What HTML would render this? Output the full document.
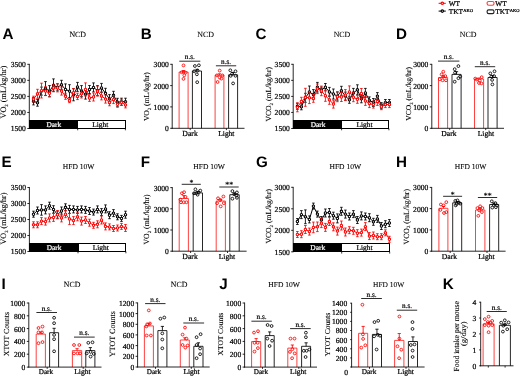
<!DOCTYPE html>
<html><head><meta charset="utf-8"><style>
html,body{margin:0;padding:0;background:#fff;overflow:hidden;}
svg{display:block;will-change:transform;font-family:"Liberation Serif",serif;text-rendering:geometricPrecision;}
</style></head><body>
<svg width="520" height="377" viewBox="0 0 520 377">
<rect width="520" height="377" fill="#fff"/>
<line x1="438.6" y1="3.3" x2="445.8" y2="3.3" stroke="#ff0000" stroke-width="1"/>
<circle cx="442.3" cy="3.3" r="1.2" fill="#fff" stroke="#ff0000" stroke-width="1.2"/>
<line x1="438.6" y1="11.1" x2="445.8" y2="11.1" stroke="#000" stroke-width="1"/>
<circle cx="442.3" cy="11.1" r="1.2" fill="#fff" stroke="#000" stroke-width="1.2"/>
<text x="448.7" y="5.8" font-size="7.1" stroke="#000" stroke-width="0.22" textLength="11.3" lengthAdjust="spacingAndGlyphs">WT</text>
<text x="448.7" y="14.2" font-size="7.1" stroke="#000" stroke-width="0.22" textLength="14.3" lengthAdjust="spacingAndGlyphs">TKT</text>
<text x="463.2" y="12" font-size="4.5" stroke="#000" stroke-width="0.22" textLength="9.8" lengthAdjust="spacingAndGlyphs">AKO</text>
<rect x="487.1" y="1.5" width="6.9" height="3.7" fill="#fff" stroke="#ff4040" stroke-width="1.15" rx="1.6"/>
<rect x="487.1" y="9.85" width="6.9" height="3.7" fill="#fff" stroke="#222" stroke-width="1.15" rx="1.6"/>
<text x="495.3" y="5.8" font-size="7.1" stroke="#000" stroke-width="0.22" textLength="11.3" lengthAdjust="spacingAndGlyphs">WT</text>
<text x="495.3" y="14.2" font-size="7.1" stroke="#000" stroke-width="0.22" textLength="14.3" lengthAdjust="spacingAndGlyphs">TKT</text>
<text x="509.7" y="12" font-size="4.5" stroke="#000" stroke-width="0.22" textLength="9.8" lengthAdjust="spacingAndGlyphs">AKO</text>
<text x="2.52" y="39.4" font-size="15.2" font-family='"Liberation Sans", sans-serif' font-weight="bold">A</text>
<text x="77.75" y="36.7" font-size="7.86" text-anchor="middle" stroke="#000" stroke-width="0.08" textLength="16.6" lengthAdjust="spacingAndGlyphs">NCD</text>
<line x1="29.3" y1="63.88" x2="29.3" y2="128.93" stroke="#000" stroke-width="0.85"/>
<line x1="27.3" y1="64.3" x2="29.3" y2="64.3" stroke="#000" stroke-width="0.85"/>
<text x="25.9" y="67.25" font-size="7.6" text-anchor="end" stroke="#000" stroke-width="0.22">3500</text>
<line x1="27.3" y1="80.35" x2="29.3" y2="80.35" stroke="#000" stroke-width="0.85"/>
<text x="25.9" y="83.3" font-size="7.6" text-anchor="end" stroke="#000" stroke-width="0.22">3000</text>
<line x1="27.3" y1="96.4" x2="29.3" y2="96.4" stroke="#000" stroke-width="0.85"/>
<text x="25.9" y="99.35" font-size="7.6" text-anchor="end" stroke="#000" stroke-width="0.22">2500</text>
<line x1="27.3" y1="112.45" x2="29.3" y2="112.45" stroke="#000" stroke-width="0.85"/>
<text x="25.9" y="115.4" font-size="7.6" text-anchor="end" stroke="#000" stroke-width="0.22">2000</text>
<line x1="27.3" y1="128.5" x2="29.3" y2="128.5" stroke="#000" stroke-width="0.85"/>
<text x="25.9" y="131.45" font-size="7.6" text-anchor="end" stroke="#000" stroke-width="0.22">1500</text>
<rect x="29" y="120" width="48" height="9" fill="#000" stroke="none" stroke-width="1"/>
<rect x="77.5" y="120.5" width="48" height="8" fill="#fff" stroke="#000" stroke-width="1"/>
<text x="53.9" y="126.6" font-size="7.3" text-anchor="middle" fill="#fff" stroke="#fff" stroke-width="0.22" textLength="14.7" lengthAdjust="spacingAndGlyphs">Dark</text>
<text x="100.25" y="126.6" font-size="7.3" text-anchor="middle" stroke="#000" stroke-width="0.22" textLength="16" lengthAdjust="spacingAndGlyphs">Light</text>
<line x1="77.7" y1="128.5" x2="77.7" y2="130.3" stroke="#000" stroke-width="0.8"/>
<line x1="125.4" y1="128.5" x2="125.4" y2="130.3" stroke="#000" stroke-width="0.8"/>
<path d="M33.5,101.2L37.5,102.8L41.5,91.1L45.5,88.5L49.5,91.1L53.5,85.3L57.5,87.3L61.5,84.8L65.5,89.5L69.5,91.1L73.5,94.8L77.5,86.9L81.5,91.1L85.5,94.3L89.5,89.5L93.5,87.4L97.5,90.6L101.5,87.9L105.5,93.3L109.5,99.1L113.5,95.3L117.5,102.3L121.5,101.7L125.5,101.7" fill="none" stroke="#000" stroke-width="1.0"/>
<path d="M33.5,97.5V104.9M32.2,97.5h2.6M32.2,104.9h2.6M37.5,99.4V106.2M36.2,99.4h2.6M36.2,106.2h2.6M41.5,87.1V95.1M40.2,87.1h2.6M40.2,95.1h2.6M45.5,81.6V95.4M44.2,81.6h2.6M44.2,95.4h2.6M49.5,85.6V96.6M48.2,85.6h2.6M48.2,96.6h2.6M53.5,78.9V91.7M52.2,78.9h2.6M52.2,91.7h2.6M57.5,83.8V90.8M56.2,83.8h2.6M56.2,90.8h2.6M61.5,80.3V89.3M60.2,80.3h2.6M60.2,89.3h2.6M65.5,83.9V95.1M64.2,83.9h2.6M64.2,95.1h2.6M69.5,84.7V97.5M68.2,84.7h2.6M68.2,97.5h2.6M73.5,88.8V100.8M72.2,88.8h2.6M72.2,100.8h2.6M77.5,82.4V91.4M76.2,82.4h2.6M76.2,91.4h2.6M81.5,85.6V96.6M80.2,85.6h2.6M80.2,96.6h2.6M85.5,89.5V99.1M84.2,89.5h2.6M84.2,99.1h2.6M89.5,85.5V93.5M88.2,85.5h2.6M88.2,93.5h2.6M93.5,82.9V91.9M92.2,82.9h2.6M92.2,91.9h2.6M97.5,85.6V95.6M96.2,85.6h2.6M96.2,95.6h2.6M101.5,83.4V92.4M100.2,83.4h2.6M100.2,92.4h2.6M105.5,88.3V98.3M104.2,88.3h2.6M104.2,98.3h2.6M109.5,94.6V103.6M108.2,94.6h2.6M108.2,103.6h2.6M113.5,91.3V99.3M112.2,91.3h2.6M112.2,99.3h2.6M117.5,98.3V106.3M116.2,98.3h2.6M116.2,106.3h2.6M121.5,98.2V105.2M120.2,98.2h2.6M120.2,105.2h2.6M125.5,98.2V105.2M124.2,98.2h2.6M124.2,105.2h2.6" fill="none" stroke="#000" stroke-width="0.85"/>
<circle cx="33.5" cy="101.2" r="1.2" fill="#fff" stroke="#000" stroke-width="1.05"/>
<circle cx="37.5" cy="102.8" r="1.2" fill="#fff" stroke="#000" stroke-width="1.05"/>
<circle cx="41.5" cy="91.1" r="1.2" fill="#fff" stroke="#000" stroke-width="1.05"/>
<circle cx="45.5" cy="88.5" r="1.2" fill="#fff" stroke="#000" stroke-width="1.05"/>
<circle cx="49.5" cy="91.1" r="1.2" fill="#fff" stroke="#000" stroke-width="1.05"/>
<circle cx="53.5" cy="85.3" r="1.2" fill="#fff" stroke="#000" stroke-width="1.05"/>
<circle cx="57.5" cy="87.3" r="1.2" fill="#fff" stroke="#000" stroke-width="1.05"/>
<circle cx="61.5" cy="84.8" r="1.2" fill="#fff" stroke="#000" stroke-width="1.05"/>
<circle cx="65.5" cy="89.5" r="1.2" fill="#fff" stroke="#000" stroke-width="1.05"/>
<circle cx="69.5" cy="91.1" r="1.2" fill="#fff" stroke="#000" stroke-width="1.05"/>
<circle cx="73.5" cy="94.8" r="1.2" fill="#fff" stroke="#000" stroke-width="1.05"/>
<circle cx="77.5" cy="86.9" r="1.2" fill="#fff" stroke="#000" stroke-width="1.05"/>
<circle cx="81.5" cy="91.1" r="1.2" fill="#fff" stroke="#000" stroke-width="1.05"/>
<circle cx="85.5" cy="94.3" r="1.2" fill="#fff" stroke="#000" stroke-width="1.05"/>
<circle cx="89.5" cy="89.5" r="1.2" fill="#fff" stroke="#000" stroke-width="1.05"/>
<circle cx="93.5" cy="87.4" r="1.2" fill="#fff" stroke="#000" stroke-width="1.05"/>
<circle cx="97.5" cy="90.6" r="1.2" fill="#fff" stroke="#000" stroke-width="1.05"/>
<circle cx="101.5" cy="87.9" r="1.2" fill="#fff" stroke="#000" stroke-width="1.05"/>
<circle cx="105.5" cy="93.3" r="1.2" fill="#fff" stroke="#000" stroke-width="1.05"/>
<circle cx="109.5" cy="99.1" r="1.2" fill="#fff" stroke="#000" stroke-width="1.05"/>
<circle cx="113.5" cy="95.3" r="1.2" fill="#fff" stroke="#000" stroke-width="1.05"/>
<circle cx="117.5" cy="102.3" r="1.2" fill="#fff" stroke="#000" stroke-width="1.05"/>
<circle cx="121.5" cy="101.7" r="1.2" fill="#fff" stroke="#000" stroke-width="1.05"/>
<circle cx="125.5" cy="101.7" r="1.2" fill="#fff" stroke="#000" stroke-width="1.05"/>
<path d="M33.5,99.1L37.5,93.8L41.5,90.6L45.5,91.1L49.5,93.3L53.5,87.9L57.5,87.9L61.5,91.1L65.5,96.3L69.5,100.7L73.5,92.7L77.5,96.4L81.5,93.8L85.5,89.5L89.5,98L93.5,97L97.5,91.1L101.5,95.9L105.5,99.1L109.5,102.3L113.5,99.6L117.5,104.3L121.5,102.3L125.5,104.9" fill="none" stroke="#ff0000" stroke-width="1.0"/>
<path d="M33.5,96.2V102M32.2,96.2h2.6M32.2,102h2.6M37.5,89.3V98.3M36.2,89.3h2.6M36.2,98.3h2.6M41.5,83.2V98M40.2,83.2h2.6M40.2,98h2.6M45.5,86.6V95.6M44.2,86.6h2.6M44.2,95.6h2.6M49.5,89.6V97M48.2,89.6h2.6M48.2,97h2.6M53.5,84.7V91.1M52.2,84.7h2.6M52.2,91.1h2.6M57.5,83.9V91.9M56.2,83.9h2.6M56.2,91.9h2.6M61.5,87.1V95.1M60.2,87.1h2.6M60.2,95.1h2.6M65.5,93.3V99.3M64.2,93.3h2.6M64.2,99.3h2.6M69.5,98.7V102.7M68.2,98.7h2.6M68.2,102.7h2.6M73.5,88.5V96.9M72.2,88.5h2.6M72.2,96.9h2.6M77.5,93.2V99.6M76.2,93.2h2.6M76.2,99.6h2.6M81.5,89.6V98M80.2,89.6h2.6M80.2,98h2.6M85.5,82.9V96.1M84.2,82.9h2.6M84.2,96.1h2.6M89.5,94.6V101.4M88.2,94.6h2.6M88.2,101.4h2.6M93.5,93V101M92.2,93h2.6M92.2,101h2.6M97.5,86.1V96.1M96.2,86.1h2.6M96.2,96.1h2.6M101.5,91.9V99.9M100.2,91.9h2.6M100.2,99.9h2.6M105.5,95.1V103.1M104.2,95.1h2.6M104.2,103.1h2.6M109.5,98.8V105.8M108.2,98.8h2.6M108.2,105.8h2.6M113.5,95.6V103.6M112.2,95.6h2.6M112.2,103.6h2.6M117.5,101.3V107.3M116.2,101.3h2.6M116.2,107.3h2.6M121.5,99.3V105.3M120.2,99.3h2.6M120.2,105.3h2.6M125.5,101.9V107.9M124.2,101.9h2.6M124.2,107.9h2.6" fill="none" stroke="#ff0000" stroke-width="0.85"/>
<circle cx="33.5" cy="99.1" r="1.2" fill="#fff" stroke="#ff0000" stroke-width="1.05"/>
<circle cx="37.5" cy="93.8" r="1.2" fill="#fff" stroke="#ff0000" stroke-width="1.05"/>
<circle cx="41.5" cy="90.6" r="1.2" fill="#fff" stroke="#ff0000" stroke-width="1.05"/>
<circle cx="45.5" cy="91.1" r="1.2" fill="#fff" stroke="#ff0000" stroke-width="1.05"/>
<circle cx="49.5" cy="93.3" r="1.2" fill="#fff" stroke="#ff0000" stroke-width="1.05"/>
<circle cx="53.5" cy="87.9" r="1.2" fill="#fff" stroke="#ff0000" stroke-width="1.05"/>
<circle cx="57.5" cy="87.9" r="1.2" fill="#fff" stroke="#ff0000" stroke-width="1.05"/>
<circle cx="61.5" cy="91.1" r="1.2" fill="#fff" stroke="#ff0000" stroke-width="1.05"/>
<circle cx="65.5" cy="96.3" r="1.2" fill="#fff" stroke="#ff0000" stroke-width="1.05"/>
<circle cx="69.5" cy="100.7" r="1.2" fill="#fff" stroke="#ff0000" stroke-width="1.05"/>
<circle cx="73.5" cy="92.7" r="1.2" fill="#fff" stroke="#ff0000" stroke-width="1.05"/>
<circle cx="77.5" cy="96.4" r="1.2" fill="#fff" stroke="#ff0000" stroke-width="1.05"/>
<circle cx="81.5" cy="93.8" r="1.2" fill="#fff" stroke="#ff0000" stroke-width="1.05"/>
<circle cx="85.5" cy="89.5" r="1.2" fill="#fff" stroke="#ff0000" stroke-width="1.05"/>
<circle cx="89.5" cy="98" r="1.2" fill="#fff" stroke="#ff0000" stroke-width="1.05"/>
<circle cx="93.5" cy="97" r="1.2" fill="#fff" stroke="#ff0000" stroke-width="1.05"/>
<circle cx="97.5" cy="91.1" r="1.2" fill="#fff" stroke="#ff0000" stroke-width="1.05"/>
<circle cx="101.5" cy="95.9" r="1.2" fill="#fff" stroke="#ff0000" stroke-width="1.05"/>
<circle cx="105.5" cy="99.1" r="1.2" fill="#fff" stroke="#ff0000" stroke-width="1.05"/>
<circle cx="109.5" cy="102.3" r="1.2" fill="#fff" stroke="#ff0000" stroke-width="1.05"/>
<circle cx="113.5" cy="99.6" r="1.2" fill="#fff" stroke="#ff0000" stroke-width="1.05"/>
<circle cx="117.5" cy="104.3" r="1.2" fill="#fff" stroke="#ff0000" stroke-width="1.05"/>
<circle cx="121.5" cy="102.3" r="1.2" fill="#fff" stroke="#ff0000" stroke-width="1.05"/>
<circle cx="125.5" cy="104.9" r="1.2" fill="#fff" stroke="#ff0000" stroke-width="1.05"/>
<text x="6.5" y="92.1" font-size="8.23" text-anchor="middle" stroke="#000" stroke-width="0.1" transform="rotate(-90 6.5 92.1)" textLength="52.8" lengthAdjust="spacingAndGlyphs">VO<tspan font-size="4.8" dy="1.6">2</tspan><tspan dy="-1.6"> (mL/kg/hr)</tspan></text>
<text x="140.78" y="39.4" font-size="15.2" font-family='"Liberation Sans", sans-serif' font-weight="bold">B</text>
<text x="205.6" y="36.7" font-size="7.91" text-anchor="middle" stroke="#000" stroke-width="0.08" textLength="16.7" lengthAdjust="spacingAndGlyphs">NCD</text>
<line x1="172.2" y1="63.88" x2="172.2" y2="128.73" stroke="#000" stroke-width="0.85"/>
<line x1="170.2" y1="64.3" x2="172.2" y2="64.3" stroke="#000" stroke-width="0.85"/>
<text x="168.8" y="67.25" font-size="7.6" text-anchor="end" stroke="#000" stroke-width="0.22">3000</text>
<line x1="170.2" y1="85.6" x2="172.2" y2="85.6" stroke="#000" stroke-width="0.85"/>
<text x="168.8" y="88.55" font-size="7.6" text-anchor="end" stroke="#000" stroke-width="0.22">2000</text>
<line x1="170.2" y1="106.9" x2="172.2" y2="106.9" stroke="#000" stroke-width="0.85"/>
<text x="168.8" y="109.85" font-size="7.6" text-anchor="end" stroke="#000" stroke-width="0.22">1000</text>
<line x1="170.2" y1="128.3" x2="172.2" y2="128.3" stroke="#000" stroke-width="0.85"/>
<text x="168.8" y="131.25" font-size="7.6" text-anchor="end" stroke="#000" stroke-width="0.22">0</text>
<path d="M179.1,128.3V72H188.1V128.3" fill="#fff" stroke="#ff2020" stroke-width="0.85"/>
<line x1="183.6" y1="72" x2="183.6" y2="70.6" stroke="#ff0000" stroke-width="0.85"/>
<line x1="182" y1="70.6" x2="185.2" y2="70.6" stroke="#ff0000" stroke-width="0.85"/>
<circle cx="183.5" cy="65.4" r="1.4" fill="none" stroke="#ff0000" stroke-width="0.85"/>
<circle cx="181.6" cy="72.3" r="1.4" fill="none" stroke="#ff0000" stroke-width="0.85"/>
<circle cx="183.6" cy="71.9" r="1.4" fill="none" stroke="#ff0000" stroke-width="0.85"/>
<circle cx="185.6" cy="72.6" r="1.4" fill="none" stroke="#ff0000" stroke-width="0.85"/>
<circle cx="184.3" cy="75.3" r="1.4" fill="none" stroke="#ff0000" stroke-width="0.85"/>
<circle cx="183.5" cy="78.9" r="1.4" fill="none" stroke="#ff0000" stroke-width="0.85"/>
<path d="M192.4,128.3V71H201.5V128.3" fill="#fff" stroke="#000" stroke-width="0.85"/>
<line x1="196.95" y1="71" x2="196.95" y2="69.3" stroke="#000" stroke-width="0.85"/>
<line x1="195.35" y1="69.3" x2="198.55" y2="69.3" stroke="#000" stroke-width="0.85"/>
<circle cx="194.9" cy="66" r="1.4" fill="none" stroke="#000" stroke-width="0.85"/>
<circle cx="198.9" cy="65.3" r="1.4" fill="none" stroke="#000" stroke-width="0.85"/>
<circle cx="194.2" cy="71.3" r="1.4" fill="none" stroke="#000" stroke-width="0.85"/>
<circle cx="197.6" cy="70.6" r="1.4" fill="none" stroke="#000" stroke-width="0.85"/>
<circle cx="196.9" cy="74.3" r="1.4" fill="none" stroke="#000" stroke-width="0.85"/>
<circle cx="197.2" cy="82.2" r="1.4" fill="none" stroke="#000" stroke-width="0.85"/>
<path d="M215.1,128.3V75.2H223.9V128.3" fill="#fff" stroke="#ff2020" stroke-width="0.85"/>
<line x1="219.5" y1="75.2" x2="219.5" y2="73.8" stroke="#ff0000" stroke-width="0.85"/>
<line x1="217.9" y1="73.8" x2="221.1" y2="73.8" stroke="#ff0000" stroke-width="0.85"/>
<circle cx="219.7" cy="70.6" r="1.4" fill="none" stroke="#ff0000" stroke-width="0.85"/>
<circle cx="216.9" cy="75.4" r="1.4" fill="none" stroke="#ff0000" stroke-width="0.85"/>
<circle cx="222.4" cy="75.4" r="1.4" fill="none" stroke="#ff0000" stroke-width="0.85"/>
<circle cx="219.7" cy="77.5" r="1.4" fill="none" stroke="#ff0000" stroke-width="0.85"/>
<circle cx="221.4" cy="78.6" r="1.4" fill="none" stroke="#ff0000" stroke-width="0.85"/>
<circle cx="217.6" cy="82" r="1.4" fill="none" stroke="#ff0000" stroke-width="0.85"/>
<path d="M228.6,128.3V74.8H237.6V128.3" fill="#fff" stroke="#000" stroke-width="0.85"/>
<line x1="233.1" y1="74.8" x2="233.1" y2="72.5" stroke="#000" stroke-width="0.85"/>
<line x1="231.5" y1="72.5" x2="234.7" y2="72.5" stroke="#000" stroke-width="0.85"/>
<circle cx="230.3" cy="70.3" r="1.4" fill="none" stroke="#000" stroke-width="0.85"/>
<circle cx="235.5" cy="71.3" r="1.4" fill="none" stroke="#000" stroke-width="0.85"/>
<circle cx="232.1" cy="73.7" r="1.4" fill="none" stroke="#000" stroke-width="0.85"/>
<circle cx="230.7" cy="75.8" r="1.4" fill="none" stroke="#000" stroke-width="0.85"/>
<circle cx="235.5" cy="75.8" r="1.4" fill="none" stroke="#000" stroke-width="0.85"/>
<circle cx="233.1" cy="83.4" r="1.4" fill="none" stroke="#000" stroke-width="0.85"/>
<line x1="171.77" y1="128.3" x2="244.5" y2="128.3" stroke="#000" stroke-width="0.85"/>
<line x1="190.2" y1="128.3" x2="190.2" y2="130.1" stroke="#000" stroke-width="0.8"/>
<line x1="226.4" y1="128.3" x2="226.4" y2="130.1" stroke="#000" stroke-width="0.8"/>
<line x1="179.3" y1="61.2" x2="200.3" y2="61.2" stroke="#222" stroke-width="0.95"/>
<text x="189.8" y="59.4" font-size="7.2" text-anchor="middle" stroke="#000" stroke-width="0.22">n.s.</text>
<line x1="215.9" y1="65.8" x2="236.2" y2="65.8" stroke="#222" stroke-width="0.95"/>
<text x="226.05" y="64" font-size="7.2" text-anchor="middle" stroke="#000" stroke-width="0.22">n.s.</text>
<text x="190.05" y="135.9" font-size="7.7" text-anchor="middle" stroke="#000" stroke-width="0.22" textLength="15.4" lengthAdjust="spacingAndGlyphs">Dark</text>
<text x="226.35" y="135.9" font-size="7.48" text-anchor="middle" stroke="#000" stroke-width="0.22" textLength="16.2" lengthAdjust="spacingAndGlyphs">Light</text>
<text x="149.4" y="96.65" font-size="7.62" text-anchor="middle" stroke="#000" stroke-width="0.1" transform="rotate(-90 149.4 96.65)" textLength="48.9" lengthAdjust="spacingAndGlyphs">VO<tspan font-size="4.8" dy="1.6">2</tspan><tspan dy="-1.6"> (mL/kg/hr)</tspan></text>
<text x="255.58" y="39.4" font-size="15.2" font-family='"Liberation Sans", sans-serif' font-weight="bold">C</text>
<text x="342" y="36.7" font-size="7.91" text-anchor="middle" stroke="#000" stroke-width="0.08" textLength="16.7" lengthAdjust="spacingAndGlyphs">NCD</text>
<line x1="293.2" y1="63.88" x2="293.2" y2="128.93" stroke="#000" stroke-width="0.85"/>
<line x1="291.2" y1="64.3" x2="293.2" y2="64.3" stroke="#000" stroke-width="0.85"/>
<text x="289.8" y="67.25" font-size="7.6" text-anchor="end" stroke="#000" stroke-width="0.22">3500</text>
<line x1="291.2" y1="80.35" x2="293.2" y2="80.35" stroke="#000" stroke-width="0.85"/>
<text x="289.8" y="83.3" font-size="7.6" text-anchor="end" stroke="#000" stroke-width="0.22">3000</text>
<line x1="291.2" y1="96.4" x2="293.2" y2="96.4" stroke="#000" stroke-width="0.85"/>
<text x="289.8" y="99.35" font-size="7.6" text-anchor="end" stroke="#000" stroke-width="0.22">2500</text>
<line x1="291.2" y1="112.45" x2="293.2" y2="112.45" stroke="#000" stroke-width="0.85"/>
<text x="289.8" y="115.4" font-size="7.6" text-anchor="end" stroke="#000" stroke-width="0.22">2000</text>
<line x1="291.2" y1="128.5" x2="293.2" y2="128.5" stroke="#000" stroke-width="0.85"/>
<text x="289.8" y="131.45" font-size="7.6" text-anchor="end" stroke="#000" stroke-width="0.22">1500</text>
<rect x="293" y="120" width="48" height="9" fill="#000" stroke="none" stroke-width="1"/>
<rect x="341.5" y="120.5" width="47" height="8" fill="#fff" stroke="#000" stroke-width="1"/>
<text x="318.1" y="126.6" font-size="7.3" text-anchor="middle" fill="#fff" stroke="#fff" stroke-width="0.22" textLength="14.7" lengthAdjust="spacingAndGlyphs">Dark</text>
<text x="364.55" y="126.6" font-size="7.3" text-anchor="middle" stroke="#000" stroke-width="0.22" textLength="16" lengthAdjust="spacingAndGlyphs">Light</text>
<line x1="341.6" y1="128.5" x2="341.6" y2="130.3" stroke="#000" stroke-width="0.8"/>
<line x1="388.9" y1="128.5" x2="388.9" y2="130.3" stroke="#000" stroke-width="0.8"/>
<path d="M297.4,106.3L301.4,106.8L305.4,97.8L309.4,92L313.4,94.6L317.4,87.2L321.4,89.8L325.4,87.2L329.4,91.9L333.4,94L337.4,96.1L341.4,90.8L345.4,96.1L349.4,99.8L353.4,92.9L357.4,89.8L361.4,98.8L365.4,92.9L369.4,100.4L373.4,102.5L377.4,96.1L381.4,105.7L385.4,102.5L389.4,102.5" fill="none" stroke="#000" stroke-width="1.0"/>
<path d="M297.4,103.3V109.3M296.1,103.3h2.6M296.1,109.3h2.6M301.4,103.8V109.8M300.1,103.8h2.6M300.1,109.8h2.6M305.4,93.3V102.3M304.1,93.3h2.6M304.1,102.3h2.6M309.4,86V98M308.1,86h2.6M308.1,98h2.6M313.4,89.6V99.6M312.1,89.6h2.6M312.1,99.6h2.6M317.4,82.4V92M316.1,82.4h2.6M316.1,92h2.6M321.4,87.1V92.5M320.1,87.1h2.6M320.1,92.5h2.6M325.4,83.5V90.9M324.1,83.5h2.6M324.1,90.9h2.6M329.4,87.4V96.4M328.1,87.4h2.6M328.1,96.4h2.6M333.4,89V99M332.1,89h2.6M332.1,99h2.6M337.4,92.1V100.1M336.1,92.1h2.6M336.1,100.1h2.6M341.4,86.3V95.3M340.1,86.3h2.6M340.1,95.3h2.6M345.4,92.1V100.1M344.1,92.1h2.6M344.1,100.1h2.6M349.4,96.3V103.3M348.1,96.3h2.6M348.1,103.3h2.6M353.4,88.4V97.4M352.1,88.4h2.6M352.1,97.4h2.6M357.4,84.8V94.8M356.1,84.8h2.6M356.1,94.8h2.6M361.4,94.8V102.8M360.1,94.8h2.6M360.1,102.8h2.6M365.4,88.4V97.4M364.1,88.4h2.6M364.1,97.4h2.6M369.4,96.9V103.9M368.1,96.9h2.6M368.1,103.9h2.6M373.4,98.5V106.5M372.1,98.5h2.6M372.1,106.5h2.6M377.4,92.6V99.6M376.1,92.6h2.6M376.1,99.6h2.6M381.4,102.7V108.7M380.1,102.7h2.6M380.1,108.7h2.6M385.4,99.5V105.5M384.1,99.5h2.6M384.1,105.5h2.6M389.4,99.5V105.5M388.1,99.5h2.6M388.1,105.5h2.6" fill="none" stroke="#000" stroke-width="0.85"/>
<circle cx="297.4" cy="106.3" r="1.2" fill="#fff" stroke="#000" stroke-width="1.05"/>
<circle cx="301.4" cy="106.8" r="1.2" fill="#fff" stroke="#000" stroke-width="1.05"/>
<circle cx="305.4" cy="97.8" r="1.2" fill="#fff" stroke="#000" stroke-width="1.05"/>
<circle cx="309.4" cy="92" r="1.2" fill="#fff" stroke="#000" stroke-width="1.05"/>
<circle cx="313.4" cy="94.6" r="1.2" fill="#fff" stroke="#000" stroke-width="1.05"/>
<circle cx="317.4" cy="87.2" r="1.2" fill="#fff" stroke="#000" stroke-width="1.05"/>
<circle cx="321.4" cy="89.8" r="1.2" fill="#fff" stroke="#000" stroke-width="1.05"/>
<circle cx="325.4" cy="87.2" r="1.2" fill="#fff" stroke="#000" stroke-width="1.05"/>
<circle cx="329.4" cy="91.9" r="1.2" fill="#fff" stroke="#000" stroke-width="1.05"/>
<circle cx="333.4" cy="94" r="1.2" fill="#fff" stroke="#000" stroke-width="1.05"/>
<circle cx="337.4" cy="96.1" r="1.2" fill="#fff" stroke="#000" stroke-width="1.05"/>
<circle cx="341.4" cy="90.8" r="1.2" fill="#fff" stroke="#000" stroke-width="1.05"/>
<circle cx="345.4" cy="96.1" r="1.2" fill="#fff" stroke="#000" stroke-width="1.05"/>
<circle cx="349.4" cy="99.8" r="1.2" fill="#fff" stroke="#000" stroke-width="1.05"/>
<circle cx="353.4" cy="92.9" r="1.2" fill="#fff" stroke="#000" stroke-width="1.05"/>
<circle cx="357.4" cy="89.8" r="1.2" fill="#fff" stroke="#000" stroke-width="1.05"/>
<circle cx="361.4" cy="98.8" r="1.2" fill="#fff" stroke="#000" stroke-width="1.05"/>
<circle cx="365.4" cy="92.9" r="1.2" fill="#fff" stroke="#000" stroke-width="1.05"/>
<circle cx="369.4" cy="100.4" r="1.2" fill="#fff" stroke="#000" stroke-width="1.05"/>
<circle cx="373.4" cy="102.5" r="1.2" fill="#fff" stroke="#000" stroke-width="1.05"/>
<circle cx="377.4" cy="96.1" r="1.2" fill="#fff" stroke="#000" stroke-width="1.05"/>
<circle cx="381.4" cy="105.7" r="1.2" fill="#fff" stroke="#000" stroke-width="1.05"/>
<circle cx="385.4" cy="102.5" r="1.2" fill="#fff" stroke="#000" stroke-width="1.05"/>
<circle cx="389.4" cy="102.5" r="1.2" fill="#fff" stroke="#000" stroke-width="1.05"/>
<path d="M297.4,107.3L301.4,101.5L305.4,97.3L309.4,97.8L313.4,98.3L317.4,88.8L321.4,90.9L325.4,95.7L329.4,99.8L333.4,104.1L337.4,96.7L341.4,97L345.4,95.1L349.4,91.9L353.4,97.2L357.4,99.3L361.4,93.5L365.4,100.9L369.4,103.6L373.4,104.6L377.4,101.4L381.4,106.7L385.4,104.6L389.4,104.6" fill="none" stroke="#ff0000" stroke-width="1.0"/>
<path d="M297.4,102.8V111.8M296.1,102.8h2.6M296.1,111.8h2.6M301.4,97.3V105.7M300.1,97.3h2.6M300.1,105.7h2.6M305.4,88.3V106.3M304.1,88.3h2.6M304.1,106.3h2.6M309.4,92V103.6M308.1,92h2.6M308.1,103.6h2.6M313.4,94.3V102.3M312.1,94.3h2.6M312.1,102.3h2.6M317.4,84V93.6M316.1,84h2.6M316.1,93.6h2.6M321.4,86.1V95.7M320.1,86.1h2.6M320.1,95.7h2.6M325.4,90.1V101.3M324.1,90.1h2.6M324.1,101.3h2.6M329.4,95.3V104.3M328.1,95.3h2.6M328.1,104.3h2.6M333.4,100.1V108.1M332.1,100.1h2.6M332.1,108.1h2.6M337.4,91.7V101.7M336.1,91.7h2.6M336.1,101.7h2.6M341.4,92.5V101.5M340.1,92.5h2.6M340.1,101.5h2.6M345.4,89.6V100.6M344.1,89.6h2.6M344.1,100.6h2.6M349.4,85.9V97.9M348.1,85.9h2.6M348.1,97.9h2.6M353.4,92.7V101.7M352.1,92.7h2.6M352.1,101.7h2.6M357.4,95.3V103.3M356.1,95.3h2.6M356.1,103.3h2.6M361.4,88.5V98.5M360.1,88.5h2.6M360.1,98.5h2.6M365.4,96.4V105.4M364.1,96.4h2.6M364.1,105.4h2.6M369.4,99.6V107.6M368.1,99.6h2.6M368.1,107.6h2.6M373.4,101.1V108.1M372.1,101.1h2.6M372.1,108.1h2.6M377.4,97.4V105.4M376.1,97.4h2.6M376.1,105.4h2.6M381.4,103.7V109.7M380.1,103.7h2.6M380.1,109.7h2.6M385.4,101.6V107.6M384.1,101.6h2.6M384.1,107.6h2.6M389.4,101.6V107.6M388.1,101.6h2.6M388.1,107.6h2.6" fill="none" stroke="#ff0000" stroke-width="0.85"/>
<circle cx="297.4" cy="107.3" r="1.2" fill="#fff" stroke="#ff0000" stroke-width="1.05"/>
<circle cx="301.4" cy="101.5" r="1.2" fill="#fff" stroke="#ff0000" stroke-width="1.05"/>
<circle cx="305.4" cy="97.3" r="1.2" fill="#fff" stroke="#ff0000" stroke-width="1.05"/>
<circle cx="309.4" cy="97.8" r="1.2" fill="#fff" stroke="#ff0000" stroke-width="1.05"/>
<circle cx="313.4" cy="98.3" r="1.2" fill="#fff" stroke="#ff0000" stroke-width="1.05"/>
<circle cx="317.4" cy="88.8" r="1.2" fill="#fff" stroke="#ff0000" stroke-width="1.05"/>
<circle cx="321.4" cy="90.9" r="1.2" fill="#fff" stroke="#ff0000" stroke-width="1.05"/>
<circle cx="325.4" cy="95.7" r="1.2" fill="#fff" stroke="#ff0000" stroke-width="1.05"/>
<circle cx="329.4" cy="99.8" r="1.2" fill="#fff" stroke="#ff0000" stroke-width="1.05"/>
<circle cx="333.4" cy="104.1" r="1.2" fill="#fff" stroke="#ff0000" stroke-width="1.05"/>
<circle cx="337.4" cy="96.7" r="1.2" fill="#fff" stroke="#ff0000" stroke-width="1.05"/>
<circle cx="341.4" cy="97" r="1.2" fill="#fff" stroke="#ff0000" stroke-width="1.05"/>
<circle cx="345.4" cy="95.1" r="1.2" fill="#fff" stroke="#ff0000" stroke-width="1.05"/>
<circle cx="349.4" cy="91.9" r="1.2" fill="#fff" stroke="#ff0000" stroke-width="1.05"/>
<circle cx="353.4" cy="97.2" r="1.2" fill="#fff" stroke="#ff0000" stroke-width="1.05"/>
<circle cx="357.4" cy="99.3" r="1.2" fill="#fff" stroke="#ff0000" stroke-width="1.05"/>
<circle cx="361.4" cy="93.5" r="1.2" fill="#fff" stroke="#ff0000" stroke-width="1.05"/>
<circle cx="365.4" cy="100.9" r="1.2" fill="#fff" stroke="#ff0000" stroke-width="1.05"/>
<circle cx="369.4" cy="103.6" r="1.2" fill="#fff" stroke="#ff0000" stroke-width="1.05"/>
<circle cx="373.4" cy="104.6" r="1.2" fill="#fff" stroke="#ff0000" stroke-width="1.05"/>
<circle cx="377.4" cy="101.4" r="1.2" fill="#fff" stroke="#ff0000" stroke-width="1.05"/>
<circle cx="381.4" cy="106.7" r="1.2" fill="#fff" stroke="#ff0000" stroke-width="1.05"/>
<circle cx="385.4" cy="104.6" r="1.2" fill="#fff" stroke="#ff0000" stroke-width="1.05"/>
<circle cx="389.4" cy="104.6" r="1.2" fill="#fff" stroke="#ff0000" stroke-width="1.05"/>
<text x="271.2" y="94.3" font-size="7.71" text-anchor="middle" stroke="#000" stroke-width="0.1" transform="rotate(-90 271.2 94.3)" textLength="54.6" lengthAdjust="spacingAndGlyphs">VCO<tspan font-size="4.8" dy="1.6">2</tspan><tspan dy="-1.6"> (mL/kg/hr)</tspan></text>
<text x="395.88" y="39.4" font-size="15.2" font-family='"Liberation Sans", sans-serif' font-weight="bold">D</text>
<text x="468.2" y="36.7" font-size="7.91" text-anchor="middle" stroke="#000" stroke-width="0.08" textLength="16.7" lengthAdjust="spacingAndGlyphs">NCD</text>
<line x1="431.8" y1="63.88" x2="431.8" y2="128.73" stroke="#000" stroke-width="0.85"/>
<line x1="429.8" y1="64.3" x2="431.8" y2="64.3" stroke="#000" stroke-width="0.85"/>
<text x="428.4" y="67.25" font-size="7.6" text-anchor="end" stroke="#000" stroke-width="0.22">3000</text>
<line x1="429.8" y1="85.6" x2="431.8" y2="85.6" stroke="#000" stroke-width="0.85"/>
<text x="428.4" y="88.55" font-size="7.6" text-anchor="end" stroke="#000" stroke-width="0.22">2000</text>
<line x1="429.8" y1="106.9" x2="431.8" y2="106.9" stroke="#000" stroke-width="0.85"/>
<text x="428.4" y="109.85" font-size="7.6" text-anchor="end" stroke="#000" stroke-width="0.22">1000</text>
<line x1="429.8" y1="128.3" x2="431.8" y2="128.3" stroke="#000" stroke-width="0.85"/>
<text x="428.4" y="131.25" font-size="7.6" text-anchor="end" stroke="#000" stroke-width="0.22">0</text>
<path d="M438.5,128.3V77.5H447.6V128.3" fill="#fff" stroke="#ff2020" stroke-width="0.85"/>
<line x1="443.05" y1="77.5" x2="443.05" y2="76" stroke="#ff0000" stroke-width="0.85"/>
<line x1="441.45" y1="76" x2="444.65" y2="76" stroke="#ff0000" stroke-width="0.85"/>
<circle cx="443.3" cy="71.7" r="1.4" fill="none" stroke="#ff0000" stroke-width="0.85"/>
<circle cx="441.6" cy="74.4" r="1.4" fill="none" stroke="#ff0000" stroke-width="0.85"/>
<circle cx="445.3" cy="76.1" r="1.4" fill="none" stroke="#ff0000" stroke-width="0.85"/>
<circle cx="443.3" cy="76.8" r="1.4" fill="none" stroke="#ff0000" stroke-width="0.85"/>
<circle cx="439.8" cy="79.2" r="1.4" fill="none" stroke="#ff0000" stroke-width="0.85"/>
<circle cx="442.6" cy="80.3" r="1.4" fill="none" stroke="#ff0000" stroke-width="0.85"/>
<circle cx="446" cy="80.3" r="1.4" fill="none" stroke="#ff0000" stroke-width="0.85"/>
<path d="M452,128.3V74.4H461.1V128.3" fill="#fff" stroke="#000" stroke-width="0.85"/>
<line x1="456.55" y1="74.4" x2="456.55" y2="71.7" stroke="#000" stroke-width="0.85"/>
<line x1="454.95" y1="71.7" x2="458.15" y2="71.7" stroke="#000" stroke-width="0.85"/>
<circle cx="458.4" cy="66.1" r="1.4" fill="none" stroke="#000" stroke-width="0.85"/>
<circle cx="454.7" cy="69.2" r="1.4" fill="none" stroke="#000" stroke-width="0.85"/>
<circle cx="455" cy="72.7" r="1.4" fill="none" stroke="#000" stroke-width="0.85"/>
<circle cx="460.2" cy="76.5" r="1.4" fill="none" stroke="#000" stroke-width="0.85"/>
<circle cx="458.4" cy="78.2" r="1.4" fill="none" stroke="#000" stroke-width="0.85"/>
<circle cx="454.7" cy="81.7" r="1.4" fill="none" stroke="#000" stroke-width="0.85"/>
<path d="M474.5,128.3V79H483.6V128.3" fill="#fff" stroke="#ff2020" stroke-width="0.85"/>
<line x1="479.05" y1="79" x2="479.05" y2="78" stroke="#ff0000" stroke-width="0.85"/>
<line x1="477.45" y1="78" x2="480.65" y2="78" stroke="#ff0000" stroke-width="0.85"/>
<circle cx="481.7" cy="77.2" r="1.4" fill="none" stroke="#ff0000" stroke-width="0.85"/>
<circle cx="475.2" cy="78.6" r="1.4" fill="none" stroke="#ff0000" stroke-width="0.85"/>
<circle cx="476.9" cy="79.6" r="1.4" fill="none" stroke="#ff0000" stroke-width="0.85"/>
<circle cx="479.7" cy="80.6" r="1.4" fill="none" stroke="#ff0000" stroke-width="0.85"/>
<circle cx="479" cy="83" r="1.4" fill="none" stroke="#ff0000" stroke-width="0.85"/>
<circle cx="481.4" cy="83.4" r="1.4" fill="none" stroke="#ff0000" stroke-width="0.85"/>
<path d="M488,128.3V77.5H497.1V128.3" fill="#fff" stroke="#000" stroke-width="0.85"/>
<line x1="492.55" y1="77.5" x2="492.55" y2="75.6" stroke="#000" stroke-width="0.85"/>
<line x1="490.95" y1="75.6" x2="494.15" y2="75.6" stroke="#000" stroke-width="0.85"/>
<circle cx="494.5" cy="71.3" r="1.4" fill="none" stroke="#000" stroke-width="0.85"/>
<circle cx="490.3" cy="73.4" r="1.4" fill="none" stroke="#000" stroke-width="0.85"/>
<circle cx="491.4" cy="76.5" r="1.4" fill="none" stroke="#000" stroke-width="0.85"/>
<circle cx="494.1" cy="76.1" r="1.4" fill="none" stroke="#000" stroke-width="0.85"/>
<circle cx="492.1" cy="79.9" r="1.4" fill="none" stroke="#000" stroke-width="0.85"/>
<circle cx="492.4" cy="84.4" r="1.4" fill="none" stroke="#000" stroke-width="0.85"/>
<line x1="431.38" y1="128.3" x2="504" y2="128.3" stroke="#000" stroke-width="0.85"/>
<line x1="449.7" y1="128.3" x2="449.7" y2="130.1" stroke="#000" stroke-width="0.8"/>
<line x1="485.7" y1="128.3" x2="485.7" y2="130.1" stroke="#000" stroke-width="0.8"/>
<line x1="438" y1="61.1" x2="459.4" y2="61.1" stroke="#222" stroke-width="0.95"/>
<text x="448.7" y="59.3" font-size="7.2" text-anchor="middle" stroke="#000" stroke-width="0.22">n.s.</text>
<line x1="474.8" y1="66.7" x2="495.2" y2="66.7" stroke="#222" stroke-width="0.95"/>
<text x="485" y="64.9" font-size="7.2" text-anchor="middle" stroke="#000" stroke-width="0.22">n.s.</text>
<text x="448.95" y="135.9" font-size="7.6" text-anchor="middle" stroke="#000" stroke-width="0.22" textLength="15.2" lengthAdjust="spacingAndGlyphs">Dark</text>
<text x="485.95" y="135.9" font-size="7.57" text-anchor="middle" stroke="#000" stroke-width="0.22" textLength="16.4" lengthAdjust="spacingAndGlyphs">Light</text>
<text x="411.2" y="93.9" font-size="7.6" text-anchor="middle" stroke="#000" stroke-width="0.1" transform="rotate(-90 411.2 93.9)" textLength="53.8" lengthAdjust="spacingAndGlyphs">VCO<tspan font-size="4.8" dy="1.6">2</tspan><tspan dy="-1.6"> (mL/kg/hr)</tspan></text>
<text x="1.48" y="166.6" font-size="15.2" font-family='"Liberation Sans", sans-serif' font-weight="bold">E</text>
<text x="78.6" y="169.3" font-size="7.56" text-anchor="middle" stroke="#000" stroke-width="0.08" textLength="31.7" lengthAdjust="spacingAndGlyphs">HFD 10W</text>
<line x1="29.4" y1="187.07" x2="29.4" y2="251.93" stroke="#000" stroke-width="0.85"/>
<line x1="27.4" y1="187.5" x2="29.4" y2="187.5" stroke="#000" stroke-width="0.85"/>
<text x="26" y="190.45" font-size="7.6" text-anchor="end" stroke="#000" stroke-width="0.22">3500</text>
<line x1="27.4" y1="203.5" x2="29.4" y2="203.5" stroke="#000" stroke-width="0.85"/>
<text x="26" y="206.45" font-size="7.6" text-anchor="end" stroke="#000" stroke-width="0.22">3000</text>
<line x1="27.4" y1="219.5" x2="29.4" y2="219.5" stroke="#000" stroke-width="0.85"/>
<text x="26" y="222.45" font-size="7.6" text-anchor="end" stroke="#000" stroke-width="0.22">2500</text>
<line x1="27.4" y1="235.5" x2="29.4" y2="235.5" stroke="#000" stroke-width="0.85"/>
<text x="26" y="238.45" font-size="7.6" text-anchor="end" stroke="#000" stroke-width="0.22">2000</text>
<line x1="27.4" y1="251.5" x2="29.4" y2="251.5" stroke="#000" stroke-width="0.85"/>
<text x="26" y="254.45" font-size="7.6" text-anchor="end" stroke="#000" stroke-width="0.22">1500</text>
<rect x="29" y="243" width="49" height="9" fill="#000" stroke="none" stroke-width="1"/>
<rect x="78.5" y="243.5" width="47" height="8" fill="#fff" stroke="#000" stroke-width="1"/>
<text x="54.1" y="249.6" font-size="7.3" text-anchor="middle" fill="#fff" stroke="#fff" stroke-width="0.22" textLength="14.7" lengthAdjust="spacingAndGlyphs">Dark</text>
<text x="100.75" y="249.6" font-size="7.3" text-anchor="middle" stroke="#000" stroke-width="0.22" textLength="16" lengthAdjust="spacingAndGlyphs">Light</text>
<line x1="78" y1="251.5" x2="78" y2="253.3" stroke="#000" stroke-width="0.8"/>
<line x1="125.9" y1="251.5" x2="125.9" y2="253.3" stroke="#000" stroke-width="0.8"/>
<path d="M33.5,214.2L37.5,210.5L41.5,209.9L45.5,209.9L49.5,205.7L53.5,209.4L57.5,214.7L61.5,211L65.5,207.3L69.5,209.4L73.5,209.4L77.5,209.9L81.5,209.4L85.5,209.9L89.5,211L93.5,212.1L97.5,209.4L101.5,212.1L105.5,208.9L109.5,215.2L113.5,213.1L117.5,216.8L121.5,218.4L125.5,214.7" fill="none" stroke="#000" stroke-width="1.0"/>
<path d="M33.5,211.2V217.2M32.2,211.2h2.6M32.2,217.2h2.6M37.5,207V214M36.2,207h2.6M36.2,214h2.6M41.5,204.6V215.2M40.2,204.6h2.6M40.2,215.2h2.6M45.5,205.9V213.9M44.2,205.9h2.6M44.2,213.9h2.6M49.5,202.2V209.2M48.2,202.2h2.6M48.2,209.2h2.6M53.5,205.7V213.1M52.2,205.7h2.6M52.2,213.1h2.6M57.5,211.2V218.2M56.2,211.2h2.6M56.2,218.2h2.6M61.5,207V215M60.2,207h2.6M60.2,215h2.6M65.5,203.8V210.8M64.2,203.8h2.6M64.2,210.8h2.6M69.5,205.4V213.4M68.2,205.4h2.6M68.2,213.4h2.6M73.5,205.9V212.9M72.2,205.9h2.6M72.2,212.9h2.6M77.5,206.4V213.4M76.2,206.4h2.6M76.2,213.4h2.6M81.5,205.9V212.9M80.2,205.9h2.6M80.2,212.9h2.6M85.5,206.4V213.4M84.2,206.4h2.6M84.2,213.4h2.6M89.5,207.5V214.5M88.2,207.5h2.6M88.2,214.5h2.6M93.5,209.1V215.1M92.2,209.1h2.6M92.2,215.1h2.6M97.5,205.9V212.9M96.2,205.9h2.6M96.2,212.9h2.6M101.5,208.6V215.6M100.2,208.6h2.6M100.2,215.6h2.6M105.5,204.9V212.9M104.2,204.9h2.6M104.2,212.9h2.6M109.5,211.7V218.7M108.2,211.7h2.6M108.2,218.7h2.6M113.5,209.6V216.6M112.2,209.6h2.6M112.2,216.6h2.6M117.5,213.8V219.8M116.2,213.8h2.6M116.2,219.8h2.6M121.5,215.4V221.4M120.2,215.4h2.6M120.2,221.4h2.6M125.5,211.2V218.2M124.2,211.2h2.6M124.2,218.2h2.6" fill="none" stroke="#000" stroke-width="0.85"/>
<circle cx="33.5" cy="214.2" r="1.2" fill="#fff" stroke="#000" stroke-width="1.05"/>
<circle cx="37.5" cy="210.5" r="1.2" fill="#fff" stroke="#000" stroke-width="1.05"/>
<circle cx="41.5" cy="209.9" r="1.2" fill="#fff" stroke="#000" stroke-width="1.05"/>
<circle cx="45.5" cy="209.9" r="1.2" fill="#fff" stroke="#000" stroke-width="1.05"/>
<circle cx="49.5" cy="205.7" r="1.2" fill="#fff" stroke="#000" stroke-width="1.05"/>
<circle cx="53.5" cy="209.4" r="1.2" fill="#fff" stroke="#000" stroke-width="1.05"/>
<circle cx="57.5" cy="214.7" r="1.2" fill="#fff" stroke="#000" stroke-width="1.05"/>
<circle cx="61.5" cy="211" r="1.2" fill="#fff" stroke="#000" stroke-width="1.05"/>
<circle cx="65.5" cy="207.3" r="1.2" fill="#fff" stroke="#000" stroke-width="1.05"/>
<circle cx="69.5" cy="209.4" r="1.2" fill="#fff" stroke="#000" stroke-width="1.05"/>
<circle cx="73.5" cy="209.4" r="1.2" fill="#fff" stroke="#000" stroke-width="1.05"/>
<circle cx="77.5" cy="209.9" r="1.2" fill="#fff" stroke="#000" stroke-width="1.05"/>
<circle cx="81.5" cy="209.4" r="1.2" fill="#fff" stroke="#000" stroke-width="1.05"/>
<circle cx="85.5" cy="209.9" r="1.2" fill="#fff" stroke="#000" stroke-width="1.05"/>
<circle cx="89.5" cy="211" r="1.2" fill="#fff" stroke="#000" stroke-width="1.05"/>
<circle cx="93.5" cy="212.1" r="1.2" fill="#fff" stroke="#000" stroke-width="1.05"/>
<circle cx="97.5" cy="209.4" r="1.2" fill="#fff" stroke="#000" stroke-width="1.05"/>
<circle cx="101.5" cy="212.1" r="1.2" fill="#fff" stroke="#000" stroke-width="1.05"/>
<circle cx="105.5" cy="208.9" r="1.2" fill="#fff" stroke="#000" stroke-width="1.05"/>
<circle cx="109.5" cy="215.2" r="1.2" fill="#fff" stroke="#000" stroke-width="1.05"/>
<circle cx="113.5" cy="213.1" r="1.2" fill="#fff" stroke="#000" stroke-width="1.05"/>
<circle cx="117.5" cy="216.8" r="1.2" fill="#fff" stroke="#000" stroke-width="1.05"/>
<circle cx="121.5" cy="218.4" r="1.2" fill="#fff" stroke="#000" stroke-width="1.05"/>
<circle cx="125.5" cy="214.7" r="1.2" fill="#fff" stroke="#000" stroke-width="1.05"/>
<path d="M33.5,224.8L37.5,224.8L41.5,221.1L45.5,221.6L49.5,217.9L53.5,217.4L57.5,214.7L61.5,217.9L65.5,214.2L69.5,219L73.5,220.6L77.5,216.8L81.5,221.1L85.5,220L89.5,222.7L93.5,225.3L97.5,224.3L101.5,220L105.5,226.4L109.5,226.9L113.5,228.5L117.5,228L121.5,226.4L125.5,228" fill="none" stroke="#ff0000" stroke-width="1.0"/>
<path d="M33.5,221.8V227.8M32.2,221.8h2.6M32.2,227.8h2.6M37.5,221.8V227.8M36.2,221.8h2.6M36.2,227.8h2.6M41.5,217.6V224.6M40.2,217.6h2.6M40.2,224.6h2.6M45.5,218.1V225.1M44.2,218.1h2.6M44.2,225.1h2.6M49.5,213.9V221.9M48.2,213.9h2.6M48.2,221.9h2.6M53.5,213.4V221.4M52.2,213.4h2.6M52.2,221.4h2.6M57.5,210.5V218.9M56.2,210.5h2.6M56.2,218.9h2.6M61.5,213.9V221.9M60.2,213.9h2.6M60.2,221.9h2.6M65.5,210.7V217.7M64.2,210.7h2.6M64.2,217.7h2.6M69.5,213.4V224.6M68.2,213.4h2.6M68.2,224.6h2.6M73.5,216.6V224.6M72.2,216.6h2.6M72.2,224.6h2.6M77.5,212.8V220.8M76.2,212.8h2.6M76.2,220.8h2.6M81.5,217.1V225.1M80.2,217.1h2.6M80.2,225.1h2.6M85.5,216.5V223.5M84.2,216.5h2.6M84.2,223.5h2.6M89.5,219.2V226.2M88.2,219.2h2.6M88.2,226.2h2.6M93.5,222.3V228.3M92.2,222.3h2.6M92.2,228.3h2.6M97.5,220.8V227.8M96.2,220.8h2.6M96.2,227.8h2.6M101.5,216V224M100.2,216h2.6M100.2,224h2.6M105.5,222.9V229.9M104.2,222.9h2.6M104.2,229.9h2.6M109.5,223.9V229.9M108.2,223.9h2.6M108.2,229.9h2.6M113.5,225.5V231.5M112.2,225.5h2.6M112.2,231.5h2.6M117.5,225V231M116.2,225h2.6M116.2,231h2.6M121.5,223.4V229.4M120.2,223.4h2.6M120.2,229.4h2.6M125.5,224.5V231.5M124.2,224.5h2.6M124.2,231.5h2.6" fill="none" stroke="#ff0000" stroke-width="0.85"/>
<circle cx="33.5" cy="224.8" r="1.2" fill="#fff" stroke="#ff0000" stroke-width="1.05"/>
<circle cx="37.5" cy="224.8" r="1.2" fill="#fff" stroke="#ff0000" stroke-width="1.05"/>
<circle cx="41.5" cy="221.1" r="1.2" fill="#fff" stroke="#ff0000" stroke-width="1.05"/>
<circle cx="45.5" cy="221.6" r="1.2" fill="#fff" stroke="#ff0000" stroke-width="1.05"/>
<circle cx="49.5" cy="217.9" r="1.2" fill="#fff" stroke="#ff0000" stroke-width="1.05"/>
<circle cx="53.5" cy="217.4" r="1.2" fill="#fff" stroke="#ff0000" stroke-width="1.05"/>
<circle cx="57.5" cy="214.7" r="1.2" fill="#fff" stroke="#ff0000" stroke-width="1.05"/>
<circle cx="61.5" cy="217.9" r="1.2" fill="#fff" stroke="#ff0000" stroke-width="1.05"/>
<circle cx="65.5" cy="214.2" r="1.2" fill="#fff" stroke="#ff0000" stroke-width="1.05"/>
<circle cx="69.5" cy="219" r="1.2" fill="#fff" stroke="#ff0000" stroke-width="1.05"/>
<circle cx="73.5" cy="220.6" r="1.2" fill="#fff" stroke="#ff0000" stroke-width="1.05"/>
<circle cx="77.5" cy="216.8" r="1.2" fill="#fff" stroke="#ff0000" stroke-width="1.05"/>
<circle cx="81.5" cy="221.1" r="1.2" fill="#fff" stroke="#ff0000" stroke-width="1.05"/>
<circle cx="85.5" cy="220" r="1.2" fill="#fff" stroke="#ff0000" stroke-width="1.05"/>
<circle cx="89.5" cy="222.7" r="1.2" fill="#fff" stroke="#ff0000" stroke-width="1.05"/>
<circle cx="93.5" cy="225.3" r="1.2" fill="#fff" stroke="#ff0000" stroke-width="1.05"/>
<circle cx="97.5" cy="224.3" r="1.2" fill="#fff" stroke="#ff0000" stroke-width="1.05"/>
<circle cx="101.5" cy="220" r="1.2" fill="#fff" stroke="#ff0000" stroke-width="1.05"/>
<circle cx="105.5" cy="226.4" r="1.2" fill="#fff" stroke="#ff0000" stroke-width="1.05"/>
<circle cx="109.5" cy="226.9" r="1.2" fill="#fff" stroke="#ff0000" stroke-width="1.05"/>
<circle cx="113.5" cy="228.5" r="1.2" fill="#fff" stroke="#ff0000" stroke-width="1.05"/>
<circle cx="117.5" cy="228" r="1.2" fill="#fff" stroke="#ff0000" stroke-width="1.05"/>
<circle cx="121.5" cy="226.4" r="1.2" fill="#fff" stroke="#ff0000" stroke-width="1.05"/>
<circle cx="125.5" cy="228" r="1.2" fill="#fff" stroke="#ff0000" stroke-width="1.05"/>
<text x="6.4" y="218.5" font-size="8.11" text-anchor="middle" stroke="#000" stroke-width="0.1" transform="rotate(-90 6.4 218.5)" textLength="52" lengthAdjust="spacingAndGlyphs">VO<tspan font-size="4.8" dy="1.6">2</tspan><tspan dy="-1.6"> (mL/kg/hr)</tspan></text>
<text x="140.78" y="166.6" font-size="15.2" font-family='"Liberation Sans", sans-serif' font-weight="bold">F</text>
<text x="209.05" y="169.3" font-size="7.53" text-anchor="middle" stroke="#000" stroke-width="0.08" textLength="31.6" lengthAdjust="spacingAndGlyphs">HFD 10W</text>
<line x1="172.3" y1="187.17" x2="172.3" y2="251.62" stroke="#000" stroke-width="0.85"/>
<line x1="170.3" y1="187.6" x2="172.3" y2="187.6" stroke="#000" stroke-width="0.85"/>
<text x="168.9" y="190.55" font-size="7.6" text-anchor="end" stroke="#000" stroke-width="0.22">3000</text>
<line x1="170.3" y1="208.8" x2="172.3" y2="208.8" stroke="#000" stroke-width="0.85"/>
<text x="168.9" y="211.75" font-size="7.6" text-anchor="end" stroke="#000" stroke-width="0.22">2000</text>
<line x1="170.3" y1="230" x2="172.3" y2="230" stroke="#000" stroke-width="0.85"/>
<text x="168.9" y="232.95" font-size="7.6" text-anchor="end" stroke="#000" stroke-width="0.22">1000</text>
<line x1="170.3" y1="251.2" x2="172.3" y2="251.2" stroke="#000" stroke-width="0.85"/>
<text x="168.9" y="254.15" font-size="7.6" text-anchor="end" stroke="#000" stroke-width="0.22">0</text>
<path d="M179.2,251.2V198.5H188.4V251.2" fill="#fff" stroke="#ff2020" stroke-width="0.85"/>
<line x1="183.8" y1="198.5" x2="183.8" y2="195.6" stroke="#ff0000" stroke-width="0.85"/>
<line x1="182.2" y1="195.6" x2="185.4" y2="195.6" stroke="#ff0000" stroke-width="0.85"/>
<circle cx="181.9" cy="193.3" r="1.4" fill="none" stroke="#ff0000" stroke-width="0.85"/>
<circle cx="184.1" cy="192.2" r="1.4" fill="none" stroke="#ff0000" stroke-width="0.85"/>
<circle cx="185.5" cy="196.9" r="1.4" fill="none" stroke="#ff0000" stroke-width="0.85"/>
<circle cx="180.5" cy="199.6" r="1.4" fill="none" stroke="#ff0000" stroke-width="0.85"/>
<circle cx="183.7" cy="202.3" r="1.4" fill="none" stroke="#ff0000" stroke-width="0.85"/>
<circle cx="186.4" cy="202.3" r="1.4" fill="none" stroke="#ff0000" stroke-width="0.85"/>
<circle cx="181" cy="202.3" r="1.4" fill="none" stroke="#ff0000" stroke-width="0.85"/>
<path d="M193.2,251.2V192.9H202.5V251.2" fill="#fff" stroke="#000" stroke-width="0.85"/>
<line x1="197.85" y1="192.9" x2="197.85" y2="191.5" stroke="#000" stroke-width="0.85"/>
<line x1="196.25" y1="191.5" x2="199.45" y2="191.5" stroke="#000" stroke-width="0.85"/>
<circle cx="195.4" cy="189.3" r="1.4" fill="none" stroke="#000" stroke-width="0.85"/>
<circle cx="200.3" cy="190.6" r="1.4" fill="none" stroke="#000" stroke-width="0.85"/>
<circle cx="198.5" cy="192.4" r="1.4" fill="none" stroke="#000" stroke-width="0.85"/>
<circle cx="196.3" cy="193.3" r="1.4" fill="none" stroke="#000" stroke-width="0.85"/>
<circle cx="197.6" cy="194.7" r="1.4" fill="none" stroke="#000" stroke-width="0.85"/>
<circle cx="194" cy="193.3" r="1.4" fill="none" stroke="#000" stroke-width="0.85"/>
<path d="M216.2,251.2V201H225.4V251.2" fill="#fff" stroke="#ff2020" stroke-width="0.85"/>
<line x1="220.8" y1="201" x2="220.8" y2="199.2" stroke="#ff0000" stroke-width="0.85"/>
<line x1="219.2" y1="199.2" x2="222.4" y2="199.2" stroke="#ff0000" stroke-width="0.85"/>
<circle cx="223.4" cy="196.5" r="1.4" fill="none" stroke="#ff0000" stroke-width="0.85"/>
<circle cx="218" cy="198.3" r="1.4" fill="none" stroke="#ff0000" stroke-width="0.85"/>
<circle cx="220.2" cy="200.1" r="1.4" fill="none" stroke="#ff0000" stroke-width="0.85"/>
<circle cx="217.1" cy="203.2" r="1.4" fill="none" stroke="#ff0000" stroke-width="0.85"/>
<circle cx="223.8" cy="203.2" r="1.4" fill="none" stroke="#ff0000" stroke-width="0.85"/>
<circle cx="220.7" cy="206.4" r="1.4" fill="none" stroke="#ff0000" stroke-width="0.85"/>
<path d="M229.8,251.2V194.7H239.2V251.2" fill="#fff" stroke="#000" stroke-width="0.85"/>
<line x1="234.5" y1="194.7" x2="234.5" y2="193" stroke="#000" stroke-width="0.85"/>
<line x1="232.9" y1="193" x2="236.1" y2="193" stroke="#000" stroke-width="0.85"/>
<circle cx="232.4" cy="191.1" r="1.4" fill="none" stroke="#000" stroke-width="0.85"/>
<circle cx="236.9" cy="192.4" r="1.4" fill="none" stroke="#000" stroke-width="0.85"/>
<circle cx="234.2" cy="194.2" r="1.4" fill="none" stroke="#000" stroke-width="0.85"/>
<circle cx="236.4" cy="195.6" r="1.4" fill="none" stroke="#000" stroke-width="0.85"/>
<circle cx="232.4" cy="198.7" r="1.4" fill="none" stroke="#000" stroke-width="0.85"/>
<circle cx="236.9" cy="197.8" r="1.4" fill="none" stroke="#000" stroke-width="0.85"/>
<line x1="171.88" y1="251.2" x2="246.6" y2="251.2" stroke="#000" stroke-width="0.85"/>
<line x1="190.6" y1="251.2" x2="190.6" y2="253" stroke="#000" stroke-width="0.8"/>
<line x1="227.5" y1="251.2" x2="227.5" y2="253" stroke="#000" stroke-width="0.8"/>
<line x1="181.7" y1="184.3" x2="200.8" y2="184.3" stroke="#222" stroke-width="0.95"/>
<text x="191.45" y="184.5" font-size="7.8" text-anchor="middle" stroke="#000" stroke-width="0.22">*</text>
<line x1="219.3" y1="187" x2="238.7" y2="187" stroke="#222" stroke-width="0.95"/>
<text x="229.2" y="187.2" font-size="7.8" text-anchor="middle" stroke="#000" stroke-width="0.22">**</text>
<text x="190.05" y="258.6" font-size="7.7" text-anchor="middle" stroke="#000" stroke-width="0.22" textLength="15.4" lengthAdjust="spacingAndGlyphs">Dark</text>
<text x="226.95" y="258.6" font-size="7.57" text-anchor="middle" stroke="#000" stroke-width="0.22" textLength="16.4" lengthAdjust="spacingAndGlyphs">Light</text>
<text x="149" y="219.4" font-size="7.82" text-anchor="middle" stroke="#000" stroke-width="0.1" transform="rotate(-90 149 219.4)" textLength="50.2" lengthAdjust="spacingAndGlyphs">VO<tspan font-size="4.8" dy="1.6">2</tspan><tspan dy="-1.6"> (mL/kg/hr)</tspan></text>
<text x="255.88" y="166.6" font-size="15.2" font-family='"Liberation Sans", sans-serif' font-weight="bold">G</text>
<text x="345.25" y="169.3" font-size="7.53" text-anchor="middle" stroke="#000" stroke-width="0.08" textLength="31.6" lengthAdjust="spacingAndGlyphs">HFD 10W</text>
<line x1="293.2" y1="186.88" x2="293.2" y2="252.23" stroke="#000" stroke-width="0.85"/>
<line x1="291.2" y1="187.3" x2="293.2" y2="187.3" stroke="#000" stroke-width="0.85"/>
<text x="289.8" y="190.25" font-size="7.6" text-anchor="end" stroke="#000" stroke-width="0.22">3000</text>
<line x1="291.2" y1="208.8" x2="293.2" y2="208.8" stroke="#000" stroke-width="0.85"/>
<text x="289.8" y="211.75" font-size="7.6" text-anchor="end" stroke="#000" stroke-width="0.22">2500</text>
<line x1="291.2" y1="230.3" x2="293.2" y2="230.3" stroke="#000" stroke-width="0.85"/>
<text x="289.8" y="233.25" font-size="7.6" text-anchor="end" stroke="#000" stroke-width="0.22">2000</text>
<line x1="291.2" y1="251.8" x2="293.2" y2="251.8" stroke="#000" stroke-width="0.85"/>
<text x="289.8" y="254.75" font-size="7.6" text-anchor="end" stroke="#000" stroke-width="0.22">1500</text>
<rect x="293" y="243" width="48" height="9" fill="#000" stroke="none" stroke-width="1"/>
<rect x="341.5" y="243.5" width="48" height="8" fill="#fff" stroke="#000" stroke-width="1"/>
<text x="317.8" y="249.9" font-size="7.3" text-anchor="middle" fill="#fff" stroke="#fff" stroke-width="0.22" textLength="14.9" lengthAdjust="spacingAndGlyphs">Dark</text>
<text x="364.55" y="249.9" font-size="7.3" text-anchor="middle" stroke="#000" stroke-width="0.22" textLength="16" lengthAdjust="spacingAndGlyphs">Light</text>
<line x1="341.7" y1="251.8" x2="341.7" y2="253.6" stroke="#000" stroke-width="0.8"/>
<line x1="389.7" y1="251.8" x2="389.7" y2="253.6" stroke="#000" stroke-width="0.8"/>
<path d="M297.4,221.5L301.4,214.6L305.4,216.8L309.4,219.4L313.4,206.1L317.4,214.1L321.4,220L325.4,213L329.4,212.5L333.4,215.7L337.4,218.4L341.4,211.3L345.4,214.1L349.4,216.5L353.4,214.1L357.4,220L361.4,215.9L365.4,216.5L369.4,217.7L373.4,221.8L377.4,218.9L381.4,226L385.4,224.2L389.4,223" fill="none" stroke="#000" stroke-width="1.0"/>
<path d="M297.4,218.5V224.5M296.1,218.5h2.6M296.1,224.5h2.6M301.4,210.6V218.6M300.1,210.6h2.6M300.1,218.6h2.6M305.4,209.9V223.7M304.1,209.9h2.6M304.1,223.7h2.6M309.4,215.9V222.9M308.1,215.9h2.6M308.1,222.9h2.6M313.4,203.1V209.1M312.1,203.1h2.6M312.1,209.1h2.6M317.4,211.1V217.1M316.1,211.1h2.6M316.1,217.1h2.6M321.4,216.5V223.5M320.1,216.5h2.6M320.1,223.5h2.6M325.4,209V217M324.1,209h2.6M324.1,217h2.6M329.4,208.5V216.5M328.1,208.5h2.6M328.1,216.5h2.6M333.4,212.2V219.2M332.1,212.2h2.6M332.1,219.2h2.6M337.4,213.9V222.9M336.1,213.9h2.6M336.1,222.9h2.6M341.4,207.3V215.3M340.1,207.3h2.6M340.1,215.3h2.6M345.4,210.1V218.1M344.1,210.1h2.6M344.1,218.1h2.6M349.4,213V220M348.1,213h2.6M348.1,220h2.6M353.4,210.6V217.6M352.1,210.6h2.6M352.1,217.6h2.6M357.4,216.5V223.5M356.1,216.5h2.6M356.1,223.5h2.6M361.4,211.9V219.9M360.1,211.9h2.6M360.1,219.9h2.6M365.4,213V220M364.1,213h2.6M364.1,220h2.6M369.4,213.7V221.7M368.1,213.7h2.6M368.1,221.7h2.6M373.4,218.3V225.3M372.1,218.3h2.6M372.1,225.3h2.6M377.4,215.4V222.4M376.1,215.4h2.6M376.1,222.4h2.6M381.4,222.5V229.5M380.1,222.5h2.6M380.1,229.5h2.6M385.4,220.7V227.7M384.1,220.7h2.6M384.1,227.7h2.6M389.4,219.5V226.5M388.1,219.5h2.6M388.1,226.5h2.6" fill="none" stroke="#000" stroke-width="0.85"/>
<circle cx="297.4" cy="221.5" r="1.2" fill="#fff" stroke="#000" stroke-width="1.05"/>
<circle cx="301.4" cy="214.6" r="1.2" fill="#fff" stroke="#000" stroke-width="1.05"/>
<circle cx="305.4" cy="216.8" r="1.2" fill="#fff" stroke="#000" stroke-width="1.05"/>
<circle cx="309.4" cy="219.4" r="1.2" fill="#fff" stroke="#000" stroke-width="1.05"/>
<circle cx="313.4" cy="206.1" r="1.2" fill="#fff" stroke="#000" stroke-width="1.05"/>
<circle cx="317.4" cy="214.1" r="1.2" fill="#fff" stroke="#000" stroke-width="1.05"/>
<circle cx="321.4" cy="220" r="1.2" fill="#fff" stroke="#000" stroke-width="1.05"/>
<circle cx="325.4" cy="213" r="1.2" fill="#fff" stroke="#000" stroke-width="1.05"/>
<circle cx="329.4" cy="212.5" r="1.2" fill="#fff" stroke="#000" stroke-width="1.05"/>
<circle cx="333.4" cy="215.7" r="1.2" fill="#fff" stroke="#000" stroke-width="1.05"/>
<circle cx="337.4" cy="218.4" r="1.2" fill="#fff" stroke="#000" stroke-width="1.05"/>
<circle cx="341.4" cy="211.3" r="1.2" fill="#fff" stroke="#000" stroke-width="1.05"/>
<circle cx="345.4" cy="214.1" r="1.2" fill="#fff" stroke="#000" stroke-width="1.05"/>
<circle cx="349.4" cy="216.5" r="1.2" fill="#fff" stroke="#000" stroke-width="1.05"/>
<circle cx="353.4" cy="214.1" r="1.2" fill="#fff" stroke="#000" stroke-width="1.05"/>
<circle cx="357.4" cy="220" r="1.2" fill="#fff" stroke="#000" stroke-width="1.05"/>
<circle cx="361.4" cy="215.9" r="1.2" fill="#fff" stroke="#000" stroke-width="1.05"/>
<circle cx="365.4" cy="216.5" r="1.2" fill="#fff" stroke="#000" stroke-width="1.05"/>
<circle cx="369.4" cy="217.7" r="1.2" fill="#fff" stroke="#000" stroke-width="1.05"/>
<circle cx="373.4" cy="221.8" r="1.2" fill="#fff" stroke="#000" stroke-width="1.05"/>
<circle cx="377.4" cy="218.9" r="1.2" fill="#fff" stroke="#000" stroke-width="1.05"/>
<circle cx="381.4" cy="226" r="1.2" fill="#fff" stroke="#000" stroke-width="1.05"/>
<circle cx="385.4" cy="224.2" r="1.2" fill="#fff" stroke="#000" stroke-width="1.05"/>
<circle cx="389.4" cy="223" r="1.2" fill="#fff" stroke="#000" stroke-width="1.05"/>
<path d="M297.4,234.5L301.4,234.2L305.4,229.5L309.4,231.6L313.4,227.4L317.4,226.8L321.4,223.1L325.4,227.4L329.4,221.5L333.4,226.8L337.4,231.1L341.4,225.5L345.4,232L349.4,230.2L353.4,230.8L357.4,233.2L361.4,232.6L365.4,226.6L369.4,236.1L373.4,235.5L377.4,236.7L381.4,236.7L385.4,232.8L389.4,239.3" fill="none" stroke="#ff0000" stroke-width="1.0"/>
<path d="M297.4,231.5V237.5M296.1,231.5h2.6M296.1,237.5h2.6M301.4,230.7V237.7M300.1,230.7h2.6M300.1,237.7h2.6M305.4,225.5V233.5M304.1,225.5h2.6M304.1,233.5h2.6M309.4,228.1V235.1M308.1,228.1h2.6M308.1,235.1h2.6M313.4,222.1V232.7M312.1,222.1h2.6M312.1,232.7h2.6M317.4,222V231.6M316.1,222h2.6M316.1,231.6h2.6M321.4,218.6V227.6M320.1,218.6h2.6M320.1,227.6h2.6M325.4,223.4V231.4M324.1,223.4h2.6M324.1,231.4h2.6M329.4,217.5V225.5M328.1,217.5h2.6M328.1,225.5h2.6M333.4,222.8V230.8M332.1,222.8h2.6M332.1,230.8h2.6M337.4,227.1V235.1M336.1,227.1h2.6M336.1,235.1h2.6M341.4,221V230M340.1,221h2.6M340.1,230h2.6M345.4,228V236M344.1,228h2.6M344.1,236h2.6M349.4,226.7V233.7M348.1,226.7h2.6M348.1,233.7h2.6M353.4,227.3V234.3M352.1,227.3h2.6M352.1,234.3h2.6M357.4,229.7V236.7M356.1,229.7h2.6M356.1,236.7h2.6M361.4,229.1V236.1M360.1,229.1h2.6M360.1,236.1h2.6M365.4,222.6V230.6M364.1,222.6h2.6M364.1,230.6h2.6M369.4,232.6V239.6M368.1,232.6h2.6M368.1,239.6h2.6M373.4,232V239M372.1,232h2.6M372.1,239h2.6M377.4,233.7V239.7M376.1,233.7h2.6M376.1,239.7h2.6M381.4,233.7V239.7M380.1,233.7h2.6M380.1,239.7h2.6M385.4,229.8V235.8M384.1,229.8h2.6M384.1,235.8h2.6M389.4,236.3V242.3M388.1,236.3h2.6M388.1,242.3h2.6" fill="none" stroke="#ff0000" stroke-width="0.85"/>
<circle cx="297.4" cy="234.5" r="1.2" fill="#fff" stroke="#ff0000" stroke-width="1.05"/>
<circle cx="301.4" cy="234.2" r="1.2" fill="#fff" stroke="#ff0000" stroke-width="1.05"/>
<circle cx="305.4" cy="229.5" r="1.2" fill="#fff" stroke="#ff0000" stroke-width="1.05"/>
<circle cx="309.4" cy="231.6" r="1.2" fill="#fff" stroke="#ff0000" stroke-width="1.05"/>
<circle cx="313.4" cy="227.4" r="1.2" fill="#fff" stroke="#ff0000" stroke-width="1.05"/>
<circle cx="317.4" cy="226.8" r="1.2" fill="#fff" stroke="#ff0000" stroke-width="1.05"/>
<circle cx="321.4" cy="223.1" r="1.2" fill="#fff" stroke="#ff0000" stroke-width="1.05"/>
<circle cx="325.4" cy="227.4" r="1.2" fill="#fff" stroke="#ff0000" stroke-width="1.05"/>
<circle cx="329.4" cy="221.5" r="1.2" fill="#fff" stroke="#ff0000" stroke-width="1.05"/>
<circle cx="333.4" cy="226.8" r="1.2" fill="#fff" stroke="#ff0000" stroke-width="1.05"/>
<circle cx="337.4" cy="231.1" r="1.2" fill="#fff" stroke="#ff0000" stroke-width="1.05"/>
<circle cx="341.4" cy="225.5" r="1.2" fill="#fff" stroke="#ff0000" stroke-width="1.05"/>
<circle cx="345.4" cy="232" r="1.2" fill="#fff" stroke="#ff0000" stroke-width="1.05"/>
<circle cx="349.4" cy="230.2" r="1.2" fill="#fff" stroke="#ff0000" stroke-width="1.05"/>
<circle cx="353.4" cy="230.8" r="1.2" fill="#fff" stroke="#ff0000" stroke-width="1.05"/>
<circle cx="357.4" cy="233.2" r="1.2" fill="#fff" stroke="#ff0000" stroke-width="1.05"/>
<circle cx="361.4" cy="232.6" r="1.2" fill="#fff" stroke="#ff0000" stroke-width="1.05"/>
<circle cx="365.4" cy="226.6" r="1.2" fill="#fff" stroke="#ff0000" stroke-width="1.05"/>
<circle cx="369.4" cy="236.1" r="1.2" fill="#fff" stroke="#ff0000" stroke-width="1.05"/>
<circle cx="373.4" cy="235.5" r="1.2" fill="#fff" stroke="#ff0000" stroke-width="1.05"/>
<circle cx="377.4" cy="236.7" r="1.2" fill="#fff" stroke="#ff0000" stroke-width="1.05"/>
<circle cx="381.4" cy="236.7" r="1.2" fill="#fff" stroke="#ff0000" stroke-width="1.05"/>
<circle cx="385.4" cy="232.8" r="1.2" fill="#fff" stroke="#ff0000" stroke-width="1.05"/>
<circle cx="389.4" cy="239.3" r="1.2" fill="#fff" stroke="#ff0000" stroke-width="1.05"/>
<text x="271.2" y="216.3" font-size="7.71" text-anchor="middle" stroke="#000" stroke-width="0.1" transform="rotate(-90 271.2 216.3)" textLength="54.6" lengthAdjust="spacingAndGlyphs">VCO<tspan font-size="4.8" dy="1.6">2</tspan><tspan dy="-1.6"> (mL/kg/hr)</tspan></text>
<text x="395.88" y="166.6" font-size="15.2" font-family='"Liberation Sans", sans-serif' font-weight="bold">H</text>
<text x="470.6" y="169.3" font-size="7.56" text-anchor="middle" stroke="#000" stroke-width="0.08" textLength="31.7" lengthAdjust="spacingAndGlyphs">HFD 10W</text>
<line x1="431.7" y1="186.97" x2="431.7" y2="251.62" stroke="#000" stroke-width="0.85"/>
<line x1="429.7" y1="187.4" x2="431.7" y2="187.4" stroke="#000" stroke-width="0.85"/>
<text x="428.3" y="190.35" font-size="7.6" text-anchor="end" stroke="#000" stroke-width="0.22">3000</text>
<line x1="429.7" y1="208.6" x2="431.7" y2="208.6" stroke="#000" stroke-width="0.85"/>
<text x="428.3" y="211.55" font-size="7.6" text-anchor="end" stroke="#000" stroke-width="0.22">2000</text>
<line x1="429.7" y1="229.9" x2="431.7" y2="229.9" stroke="#000" stroke-width="0.85"/>
<text x="428.3" y="232.85" font-size="7.6" text-anchor="end" stroke="#000" stroke-width="0.22">1000</text>
<line x1="429.7" y1="251.2" x2="431.7" y2="251.2" stroke="#000" stroke-width="0.85"/>
<text x="428.3" y="254.15" font-size="7.6" text-anchor="end" stroke="#000" stroke-width="0.22">0</text>
<path d="M438.9,251.2V208.3H447.9V251.2" fill="#fff" stroke="#ff2020" stroke-width="0.85"/>
<line x1="443.4" y1="208.3" x2="443.4" y2="206.5" stroke="#ff0000" stroke-width="0.85"/>
<line x1="441.8" y1="206.5" x2="445" y2="206.5" stroke="#ff0000" stroke-width="0.85"/>
<circle cx="446.3" cy="202.2" r="1.4" fill="none" stroke="#ff0000" stroke-width="0.85"/>
<circle cx="440.9" cy="204.5" r="1.4" fill="none" stroke="#ff0000" stroke-width="0.85"/>
<circle cx="443.6" cy="205.4" r="1.4" fill="none" stroke="#ff0000" stroke-width="0.85"/>
<circle cx="440.4" cy="209.9" r="1.4" fill="none" stroke="#ff0000" stroke-width="0.85"/>
<circle cx="444" cy="213" r="1.4" fill="none" stroke="#ff0000" stroke-width="0.85"/>
<circle cx="446.3" cy="212.1" r="1.4" fill="none" stroke="#ff0000" stroke-width="0.85"/>
<path d="M452.7,251.2V202.8H461.7V251.2" fill="#fff" stroke="#000" stroke-width="0.85"/>
<line x1="457.2" y1="202.8" x2="457.2" y2="201.5" stroke="#000" stroke-width="0.85"/>
<line x1="455.6" y1="201.5" x2="458.8" y2="201.5" stroke="#000" stroke-width="0.85"/>
<circle cx="455.3" cy="200.9" r="1.4" fill="none" stroke="#000" stroke-width="0.85"/>
<circle cx="457.5" cy="200.4" r="1.4" fill="none" stroke="#000" stroke-width="0.85"/>
<circle cx="458.9" cy="202.7" r="1.4" fill="none" stroke="#000" stroke-width="0.85"/>
<circle cx="456.6" cy="204" r="1.4" fill="none" stroke="#000" stroke-width="0.85"/>
<circle cx="455.7" cy="205.4" r="1.4" fill="none" stroke="#000" stroke-width="0.85"/>
<circle cx="460.2" cy="203.6" r="1.4" fill="none" stroke="#000" stroke-width="0.85"/>
<path d="M475.5,251.2V210H484.9V251.2" fill="#fff" stroke="#ff2020" stroke-width="0.85"/>
<line x1="480.2" y1="210" x2="480.2" y2="208.2" stroke="#ff0000" stroke-width="0.85"/>
<line x1="478.6" y1="208.2" x2="481.8" y2="208.2" stroke="#ff0000" stroke-width="0.85"/>
<circle cx="480.1" cy="206.3" r="1.4" fill="none" stroke="#ff0000" stroke-width="0.85"/>
<circle cx="477.4" cy="208.1" r="1.4" fill="none" stroke="#ff0000" stroke-width="0.85"/>
<circle cx="482.4" cy="208.1" r="1.4" fill="none" stroke="#ff0000" stroke-width="0.85"/>
<circle cx="479.2" cy="210.3" r="1.4" fill="none" stroke="#ff0000" stroke-width="0.85"/>
<circle cx="481.9" cy="212.1" r="1.4" fill="none" stroke="#ff0000" stroke-width="0.85"/>
<circle cx="478.3" cy="215.8" r="1.4" fill="none" stroke="#ff0000" stroke-width="0.85"/>
<path d="M489.6,251.2V204.5H498.7V251.2" fill="#fff" stroke="#000" stroke-width="0.85"/>
<line x1="494.15" y1="204.5" x2="494.15" y2="203" stroke="#000" stroke-width="0.85"/>
<line x1="492.55" y1="203" x2="495.75" y2="203" stroke="#000" stroke-width="0.85"/>
<circle cx="491.8" cy="201.3" r="1.4" fill="none" stroke="#000" stroke-width="0.85"/>
<circle cx="495.4" cy="203.1" r="1.4" fill="none" stroke="#000" stroke-width="0.85"/>
<circle cx="496.8" cy="205.4" r="1.4" fill="none" stroke="#000" stroke-width="0.85"/>
<circle cx="492.3" cy="207.6" r="1.4" fill="none" stroke="#000" stroke-width="0.85"/>
<circle cx="495.9" cy="207.2" r="1.4" fill="none" stroke="#000" stroke-width="0.85"/>
<circle cx="493.6" cy="204.9" r="1.4" fill="none" stroke="#000" stroke-width="0.85"/>
<line x1="431.27" y1="251.2" x2="505.6" y2="251.2" stroke="#000" stroke-width="0.85"/>
<line x1="450.2" y1="251.2" x2="450.2" y2="253" stroke="#000" stroke-width="0.8"/>
<line x1="487" y1="251.2" x2="487" y2="253" stroke="#000" stroke-width="0.8"/>
<line x1="443.1" y1="196.3" x2="462.1" y2="196.3" stroke="#222" stroke-width="0.95"/>
<text x="452.8" y="196.5" font-size="7.8" text-anchor="middle" stroke="#000" stroke-width="0.22">*</text>
<line x1="477.9" y1="197.5" x2="497.2" y2="197.5" stroke="#222" stroke-width="0.95"/>
<text x="487.75" y="197.7" font-size="7.8" text-anchor="middle" stroke="#000" stroke-width="0.22">**</text>
<text x="449.5" y="258.6" font-size="7.65" text-anchor="middle" stroke="#000" stroke-width="0.22" textLength="15.3" lengthAdjust="spacingAndGlyphs">Dark</text>
<text x="486.45" y="258.6" font-size="7.57" text-anchor="middle" stroke="#000" stroke-width="0.22" textLength="16.4" lengthAdjust="spacingAndGlyphs">Light</text>
<text x="408.8" y="216.75" font-size="7.84" text-anchor="middle" stroke="#000" stroke-width="0.1" transform="rotate(-90 408.8 216.75)" textLength="55.5" lengthAdjust="spacingAndGlyphs">VCO<tspan font-size="4.8" dy="1.6">2</tspan><tspan dy="-1.6"> (mL/kg/hr)</tspan></text>
<text x="1.38" y="288.6" font-size="15.2" font-family='"Liberation Sans", sans-serif' font-weight="bold">I</text>
<text x="72.15" y="286.8" font-size="7.86" text-anchor="middle" stroke="#000" stroke-width="0.08" textLength="16.6" lengthAdjust="spacingAndGlyphs">NCD</text>
<line x1="28.8" y1="302.57" x2="28.8" y2="367.53" stroke="#000" stroke-width="0.85"/>
<line x1="26.8" y1="303" x2="28.8" y2="303" stroke="#000" stroke-width="0.85"/>
<text x="25.4" y="305.95" font-size="7.6" text-anchor="end" stroke="#000" stroke-width="0.22">1000</text>
<line x1="26.8" y1="315.8" x2="28.8" y2="315.8" stroke="#000" stroke-width="0.85"/>
<text x="25.4" y="318.75" font-size="7.6" text-anchor="end" stroke="#000" stroke-width="0.22">800</text>
<line x1="26.8" y1="328.6" x2="28.8" y2="328.6" stroke="#000" stroke-width="0.85"/>
<text x="25.4" y="331.55" font-size="7.6" text-anchor="end" stroke="#000" stroke-width="0.22">600</text>
<line x1="26.8" y1="341.4" x2="28.8" y2="341.4" stroke="#000" stroke-width="0.85"/>
<text x="25.4" y="344.35" font-size="7.6" text-anchor="end" stroke="#000" stroke-width="0.22">400</text>
<line x1="26.8" y1="354.2" x2="28.8" y2="354.2" stroke="#000" stroke-width="0.85"/>
<text x="25.4" y="357.15" font-size="7.6" text-anchor="end" stroke="#000" stroke-width="0.22">200</text>
<line x1="26.8" y1="367.1" x2="28.8" y2="367.1" stroke="#000" stroke-width="0.85"/>
<text x="25.4" y="370.05" font-size="7.6" text-anchor="end" stroke="#000" stroke-width="0.22">0</text>
<path d="M36.2,367.1V334.1H45.4V367.1" fill="#fff" stroke="#ff2020" stroke-width="0.85"/>
<line x1="40.8" y1="334.1" x2="40.8" y2="332" stroke="#ff0000" stroke-width="0.85"/>
<line x1="39.2" y1="332" x2="42.4" y2="332" stroke="#ff0000" stroke-width="0.85"/>
<circle cx="38.5" cy="328" r="1.4" fill="none" stroke="#ff0000" stroke-width="0.85"/>
<circle cx="42.5" cy="326.6" r="1.4" fill="none" stroke="#ff0000" stroke-width="0.85"/>
<circle cx="38.5" cy="332.4" r="1.4" fill="none" stroke="#ff0000" stroke-width="0.85"/>
<circle cx="42" cy="332.4" r="1.4" fill="none" stroke="#ff0000" stroke-width="0.85"/>
<circle cx="38.5" cy="343.2" r="1.4" fill="none" stroke="#ff0000" stroke-width="0.85"/>
<circle cx="42.5" cy="342.1" r="1.4" fill="none" stroke="#ff0000" stroke-width="0.85"/>
<path d="M49.6,367.1V332.7H58.6V367.1" fill="#fff" stroke="#000" stroke-width="0.85"/>
<line x1="54.1" y1="332.7" x2="54.1" y2="328.3" stroke="#000" stroke-width="0.85"/>
<line x1="52.5" y1="328.3" x2="55.7" y2="328.3" stroke="#000" stroke-width="0.85"/>
<circle cx="54.1" cy="317.8" r="1.4" fill="none" stroke="#000" stroke-width="0.85"/>
<circle cx="54.1" cy="323.2" r="1.4" fill="none" stroke="#000" stroke-width="0.85"/>
<circle cx="54.1" cy="334.9" r="1.4" fill="none" stroke="#000" stroke-width="0.85"/>
<circle cx="54.1" cy="339.2" r="1.4" fill="none" stroke="#000" stroke-width="0.85"/>
<circle cx="54.1" cy="351.3" r="1.4" fill="none" stroke="#000" stroke-width="0.85"/>
<path d="M72.4,367.1V350.6H81.7V367.1" fill="#fff" stroke="#ff2020" stroke-width="0.85"/>
<line x1="77.05" y1="350.6" x2="77.05" y2="348.7" stroke="#ff0000" stroke-width="0.85"/>
<line x1="75.45" y1="348.7" x2="78.65" y2="348.7" stroke="#ff0000" stroke-width="0.85"/>
<circle cx="74" cy="345" r="1.4" fill="none" stroke="#ff0000" stroke-width="0.85"/>
<circle cx="79.3" cy="345" r="1.4" fill="none" stroke="#ff0000" stroke-width="0.85"/>
<circle cx="74" cy="353.4" r="1.4" fill="none" stroke="#ff0000" stroke-width="0.85"/>
<circle cx="77.6" cy="353.4" r="1.4" fill="none" stroke="#ff0000" stroke-width="0.85"/>
<circle cx="80" cy="353.4" r="1.4" fill="none" stroke="#ff0000" stroke-width="0.85"/>
<path d="M85.8,367.1V350.6H94.9V367.1" fill="#fff" stroke="#000" stroke-width="0.85"/>
<line x1="90.35" y1="350.6" x2="90.35" y2="347.6" stroke="#000" stroke-width="0.85"/>
<line x1="88.75" y1="347.6" x2="91.95" y2="347.6" stroke="#000" stroke-width="0.85"/>
<circle cx="88.3" cy="342.8" r="1.4" fill="none" stroke="#000" stroke-width="0.85"/>
<circle cx="92.5" cy="342.3" r="1.4" fill="none" stroke="#000" stroke-width="0.85"/>
<circle cx="86.7" cy="353.4" r="1.4" fill="none" stroke="#000" stroke-width="0.85"/>
<circle cx="90.6" cy="351.9" r="1.4" fill="none" stroke="#000" stroke-width="0.85"/>
<circle cx="93.8" cy="353.9" r="1.4" fill="none" stroke="#000" stroke-width="0.85"/>
<circle cx="90.6" cy="356.6" r="1.4" fill="none" stroke="#000" stroke-width="0.85"/>
<line x1="28.38" y1="367.1" x2="101.5" y2="367.1" stroke="#000" stroke-width="0.85"/>
<line x1="47.2" y1="367.1" x2="47.2" y2="368.9" stroke="#000" stroke-width="0.8"/>
<line x1="83.2" y1="367.1" x2="83.2" y2="368.9" stroke="#000" stroke-width="0.8"/>
<line x1="36.4" y1="312.5" x2="57" y2="312.5" stroke="#222" stroke-width="0.95"/>
<text x="46.7" y="310.7" font-size="7.2" text-anchor="middle" stroke="#000" stroke-width="0.22">n.s.</text>
<line x1="74" y1="337.1" x2="94.7" y2="337.1" stroke="#222" stroke-width="0.95"/>
<text x="84.35" y="335.3" font-size="7.2" text-anchor="middle" stroke="#000" stroke-width="0.22">n.s.</text>
<text x="45.9" y="374.2" font-size="7.15" text-anchor="middle" stroke="#000" stroke-width="0.22" textLength="14.3" lengthAdjust="spacingAndGlyphs">Dark</text>
<text x="82.45" y="374.2" font-size="7.57" text-anchor="middle" stroke="#000" stroke-width="0.22" textLength="16.4" lengthAdjust="spacingAndGlyphs">Light</text>
<text x="8.8" y="334.1" font-size="7.69" text-anchor="middle" stroke="#000" stroke-width="0.1" transform="rotate(-90 8.8 334.1)" textLength="44.2" lengthAdjust="spacingAndGlyphs">XTOT Counts</text>
<text x="179.15" y="286.8" font-size="7.86" text-anchor="middle" stroke="#000" stroke-width="0.08" textLength="16.6" lengthAdjust="spacingAndGlyphs">NCD</text>
<line x1="137.6" y1="302.47" x2="137.6" y2="367.43" stroke="#000" stroke-width="0.85"/>
<line x1="135.6" y1="302.9" x2="137.6" y2="302.9" stroke="#000" stroke-width="0.85"/>
<text x="134.2" y="305.85" font-size="7.6" text-anchor="end" stroke="#000" stroke-width="0.22">1200</text>
<line x1="135.6" y1="313.6" x2="137.6" y2="313.6" stroke="#000" stroke-width="0.85"/>
<text x="134.2" y="316.55" font-size="7.6" text-anchor="end" stroke="#000" stroke-width="0.22">1000</text>
<line x1="135.6" y1="324.3" x2="137.6" y2="324.3" stroke="#000" stroke-width="0.85"/>
<text x="134.2" y="327.25" font-size="7.6" text-anchor="end" stroke="#000" stroke-width="0.22">800</text>
<line x1="135.6" y1="334.9" x2="137.6" y2="334.9" stroke="#000" stroke-width="0.85"/>
<text x="134.2" y="337.85" font-size="7.6" text-anchor="end" stroke="#000" stroke-width="0.22">600</text>
<line x1="135.6" y1="345.6" x2="137.6" y2="345.6" stroke="#000" stroke-width="0.85"/>
<text x="134.2" y="348.55" font-size="7.6" text-anchor="end" stroke="#000" stroke-width="0.22">400</text>
<line x1="135.6" y1="356.3" x2="137.6" y2="356.3" stroke="#000" stroke-width="0.85"/>
<text x="134.2" y="359.25" font-size="7.6" text-anchor="end" stroke="#000" stroke-width="0.22">200</text>
<line x1="135.6" y1="367" x2="137.6" y2="367" stroke="#000" stroke-width="0.85"/>
<text x="134.2" y="369.95" font-size="7.6" text-anchor="end" stroke="#000" stroke-width="0.22">0</text>
<path d="M144.4,367V325.9H153.4V367" fill="#fff" stroke="#ff2020" stroke-width="0.85"/>
<line x1="148.9" y1="325.9" x2="148.9" y2="323.5" stroke="#ff0000" stroke-width="0.85"/>
<line x1="147.3" y1="323.5" x2="150.5" y2="323.5" stroke="#ff0000" stroke-width="0.85"/>
<circle cx="148.8" cy="310.4" r="1.4" fill="none" stroke="#ff0000" stroke-width="0.85"/>
<circle cx="147.2" cy="324.3" r="1.4" fill="none" stroke="#ff0000" stroke-width="0.85"/>
<circle cx="149.9" cy="323.5" r="1.4" fill="none" stroke="#ff0000" stroke-width="0.85"/>
<circle cx="146.4" cy="326.4" r="1.4" fill="none" stroke="#ff0000" stroke-width="0.85"/>
<circle cx="146.7" cy="335.5" r="1.4" fill="none" stroke="#ff0000" stroke-width="0.85"/>
<circle cx="150.9" cy="335.5" r="1.4" fill="none" stroke="#ff0000" stroke-width="0.85"/>
<path d="M157.9,367V330.6H166.9V367" fill="#fff" stroke="#000" stroke-width="0.85"/>
<line x1="162.4" y1="330.6" x2="162.4" y2="326.4" stroke="#000" stroke-width="0.85"/>
<line x1="160.8" y1="326.4" x2="164" y2="326.4" stroke="#000" stroke-width="0.85"/>
<circle cx="160.4" cy="318.7" r="1.4" fill="none" stroke="#000" stroke-width="0.85"/>
<circle cx="164.3" cy="317.5" r="1.4" fill="none" stroke="#000" stroke-width="0.85"/>
<circle cx="162.3" cy="333.4" r="1.4" fill="none" stroke="#000" stroke-width="0.85"/>
<circle cx="162.3" cy="339.5" r="1.4" fill="none" stroke="#000" stroke-width="0.85"/>
<circle cx="162.3" cy="348.3" r="1.4" fill="none" stroke="#000" stroke-width="0.85"/>
<path d="M180.3,367V340H189.3V367" fill="#fff" stroke="#ff2020" stroke-width="0.85"/>
<line x1="184.8" y1="340" x2="184.8" y2="337.8" stroke="#ff0000" stroke-width="0.85"/>
<line x1="183.2" y1="337.8" x2="186.4" y2="337.8" stroke="#ff0000" stroke-width="0.85"/>
<circle cx="185" cy="327.6" r="1.4" fill="none" stroke="#ff0000" stroke-width="0.85"/>
<circle cx="182.6" cy="334.6" r="1.4" fill="none" stroke="#ff0000" stroke-width="0.85"/>
<circle cx="186.4" cy="338.6" r="1.4" fill="none" stroke="#ff0000" stroke-width="0.85"/>
<circle cx="182.6" cy="345" r="1.4" fill="none" stroke="#ff0000" stroke-width="0.85"/>
<circle cx="187.7" cy="345.5" r="1.4" fill="none" stroke="#ff0000" stroke-width="0.85"/>
<circle cx="185.3" cy="347.6" r="1.4" fill="none" stroke="#ff0000" stroke-width="0.85"/>
<path d="M193.8,367V346.3H203V367" fill="#fff" stroke="#000" stroke-width="0.85"/>
<line x1="198.4" y1="346.3" x2="198.4" y2="342.8" stroke="#000" stroke-width="0.85"/>
<line x1="196.8" y1="342.8" x2="200" y2="342.8" stroke="#000" stroke-width="0.85"/>
<circle cx="196.6" cy="337.2" r="1.4" fill="none" stroke="#000" stroke-width="0.85"/>
<circle cx="200.6" cy="334.2" r="1.4" fill="none" stroke="#000" stroke-width="0.85"/>
<circle cx="196.6" cy="345" r="1.4" fill="none" stroke="#000" stroke-width="0.85"/>
<circle cx="200.1" cy="348.5" r="1.4" fill="none" stroke="#000" stroke-width="0.85"/>
<circle cx="200.1" cy="354.2" r="1.4" fill="none" stroke="#000" stroke-width="0.85"/>
<circle cx="196.6" cy="358.2" r="1.4" fill="none" stroke="#000" stroke-width="0.85"/>
<line x1="137.17" y1="367" x2="209.7" y2="367" stroke="#000" stroke-width="0.85"/>
<line x1="155.5" y1="367" x2="155.5" y2="368.8" stroke="#000" stroke-width="0.8"/>
<line x1="191.3" y1="367" x2="191.3" y2="368.8" stroke="#000" stroke-width="0.8"/>
<line x1="145.1" y1="303.6" x2="165.5" y2="303.6" stroke="#222" stroke-width="0.95"/>
<text x="155.3" y="301.8" font-size="7.2" text-anchor="middle" stroke="#000" stroke-width="0.22">n.s.</text>
<line x1="183.3" y1="323" x2="204.1" y2="323" stroke="#222" stroke-width="0.95"/>
<text x="193.7" y="321.2" font-size="7.2" text-anchor="middle" stroke="#000" stroke-width="0.22">n.s.</text>
<text x="153.9" y="374.2" font-size="7.15" text-anchor="middle" stroke="#000" stroke-width="0.22" textLength="14.3" lengthAdjust="spacingAndGlyphs">Dark</text>
<text x="191.55" y="374.2" font-size="7.48" text-anchor="middle" stroke="#000" stroke-width="0.22" textLength="16.2" lengthAdjust="spacingAndGlyphs">Light</text>
<text x="115" y="334.1" font-size="7.97" text-anchor="middle" stroke="#000" stroke-width="0.1" transform="rotate(-90 115 334.1)" textLength="45.8" lengthAdjust="spacingAndGlyphs">YTOT Counts</text>
<text x="219.17" y="288.8" font-size="15.2" font-family='"Liberation Sans", sans-serif' font-weight="bold">J</text>
<text x="284.05" y="286.8" font-size="7.53" text-anchor="middle" stroke="#000" stroke-width="0.08" textLength="31.6" lengthAdjust="spacingAndGlyphs">HFD 10W</text>
<line x1="244.6" y1="302.57" x2="244.6" y2="367.53" stroke="#000" stroke-width="0.85"/>
<line x1="242.6" y1="303" x2="244.6" y2="303" stroke="#000" stroke-width="0.85"/>
<text x="241.2" y="305.95" font-size="7.6" text-anchor="end" stroke="#000" stroke-width="0.22">1000</text>
<line x1="242.6" y1="315.8" x2="244.6" y2="315.8" stroke="#000" stroke-width="0.85"/>
<text x="241.2" y="318.75" font-size="7.6" text-anchor="end" stroke="#000" stroke-width="0.22">800</text>
<line x1="242.6" y1="328.6" x2="244.6" y2="328.6" stroke="#000" stroke-width="0.85"/>
<text x="241.2" y="331.55" font-size="7.6" text-anchor="end" stroke="#000" stroke-width="0.22">600</text>
<line x1="242.6" y1="341.4" x2="244.6" y2="341.4" stroke="#000" stroke-width="0.85"/>
<text x="241.2" y="344.35" font-size="7.6" text-anchor="end" stroke="#000" stroke-width="0.22">400</text>
<line x1="242.6" y1="354.2" x2="244.6" y2="354.2" stroke="#000" stroke-width="0.85"/>
<text x="241.2" y="357.15" font-size="7.6" text-anchor="end" stroke="#000" stroke-width="0.22">200</text>
<line x1="242.6" y1="367.1" x2="244.6" y2="367.1" stroke="#000" stroke-width="0.85"/>
<text x="241.2" y="370.05" font-size="7.6" text-anchor="end" stroke="#000" stroke-width="0.22">0</text>
<path d="M251.6,367.1V341.5H260.7V367.1" fill="#fff" stroke="#ff2020" stroke-width="0.85"/>
<line x1="256.15" y1="341.5" x2="256.15" y2="338.6" stroke="#ff0000" stroke-width="0.85"/>
<line x1="254.55" y1="338.6" x2="257.75" y2="338.6" stroke="#ff0000" stroke-width="0.85"/>
<circle cx="254" cy="332.6" r="1.4" fill="none" stroke="#ff0000" stroke-width="0.85"/>
<circle cx="258" cy="331.2" r="1.4" fill="none" stroke="#ff0000" stroke-width="0.85"/>
<circle cx="254.5" cy="342.8" r="1.4" fill="none" stroke="#ff0000" stroke-width="0.85"/>
<circle cx="257.7" cy="342.8" r="1.4" fill="none" stroke="#ff0000" stroke-width="0.85"/>
<circle cx="257.9" cy="348.1" r="1.4" fill="none" stroke="#ff0000" stroke-width="0.85"/>
<circle cx="254.5" cy="351.6" r="1.4" fill="none" stroke="#ff0000" stroke-width="0.85"/>
<path d="M265.2,367.1V335.6H274.2V367.1" fill="#fff" stroke="#000" stroke-width="0.85"/>
<line x1="269.7" y1="335.6" x2="269.7" y2="331.9" stroke="#000" stroke-width="0.85"/>
<line x1="268.1" y1="331.9" x2="271.3" y2="331.9" stroke="#000" stroke-width="0.85"/>
<circle cx="267.6" cy="325" r="1.4" fill="none" stroke="#000" stroke-width="0.85"/>
<circle cx="271.6" cy="326" r="1.4" fill="none" stroke="#000" stroke-width="0.85"/>
<circle cx="267.3" cy="338.6" r="1.4" fill="none" stroke="#000" stroke-width="0.85"/>
<circle cx="272.1" cy="340.7" r="1.4" fill="none" stroke="#000" stroke-width="0.85"/>
<circle cx="269.6" cy="346" r="1.4" fill="none" stroke="#000" stroke-width="0.85"/>
<path d="M287.8,367.1V348.1H296.9V367.1" fill="#fff" stroke="#ff2020" stroke-width="0.85"/>
<line x1="292.35" y1="348.1" x2="292.35" y2="345" stroke="#ff0000" stroke-width="0.85"/>
<line x1="290.75" y1="345" x2="293.95" y2="345" stroke="#ff0000" stroke-width="0.85"/>
<circle cx="290.5" cy="338.6" r="1.4" fill="none" stroke="#ff0000" stroke-width="0.85"/>
<circle cx="294.5" cy="338.6" r="1.4" fill="none" stroke="#ff0000" stroke-width="0.85"/>
<circle cx="290" cy="351.9" r="1.4" fill="none" stroke="#ff0000" stroke-width="0.85"/>
<circle cx="292.4" cy="349.2" r="1.4" fill="none" stroke="#ff0000" stroke-width="0.85"/>
<circle cx="294.7" cy="353.4" r="1.4" fill="none" stroke="#ff0000" stroke-width="0.85"/>
<circle cx="292.1" cy="358.2" r="1.4" fill="none" stroke="#ff0000" stroke-width="0.85"/>
<path d="M301.6,367.1V346.3H310.6V367.1" fill="#fff" stroke="#000" stroke-width="0.85"/>
<line x1="306.1" y1="346.3" x2="306.1" y2="342.8" stroke="#000" stroke-width="0.85"/>
<line x1="304.5" y1="342.8" x2="307.7" y2="342.8" stroke="#000" stroke-width="0.85"/>
<circle cx="305.9" cy="332.7" r="1.4" fill="none" stroke="#000" stroke-width="0.85"/>
<circle cx="305.9" cy="337.2" r="1.4" fill="none" stroke="#000" stroke-width="0.85"/>
<circle cx="303.8" cy="350.8" r="1.4" fill="none" stroke="#000" stroke-width="0.85"/>
<circle cx="306.6" cy="350.8" r="1.4" fill="none" stroke="#000" stroke-width="0.85"/>
<circle cx="309.4" cy="349.5" r="1.4" fill="none" stroke="#000" stroke-width="0.85"/>
<circle cx="305.6" cy="357" r="1.4" fill="none" stroke="#000" stroke-width="0.85"/>
<line x1="244.17" y1="367.1" x2="317" y2="367.1" stroke="#000" stroke-width="0.85"/>
<line x1="262.5" y1="367.1" x2="262.5" y2="368.9" stroke="#000" stroke-width="0.8"/>
<line x1="298.8" y1="367.1" x2="298.8" y2="368.9" stroke="#000" stroke-width="0.8"/>
<line x1="251.4" y1="321.2" x2="271.8" y2="321.2" stroke="#222" stroke-width="0.95"/>
<text x="261.6" y="319.4" font-size="7.2" text-anchor="middle" stroke="#000" stroke-width="0.22">n.s.</text>
<line x1="290.1" y1="328.6" x2="310.7" y2="328.6" stroke="#222" stroke-width="0.95"/>
<text x="300.4" y="326.8" font-size="7.2" text-anchor="middle" stroke="#000" stroke-width="0.22">n.s.</text>
<text x="260.9" y="374.2" font-size="7.15" text-anchor="middle" stroke="#000" stroke-width="0.22" textLength="14.3" lengthAdjust="spacingAndGlyphs">Dark</text>
<text x="298.25" y="374.2" font-size="7.57" text-anchor="middle" stroke="#000" stroke-width="0.22" textLength="16.4" lengthAdjust="spacingAndGlyphs">Light</text>
<text x="223.2" y="334.1" font-size="7.41" text-anchor="middle" stroke="#000" stroke-width="0.1" transform="rotate(-90 223.2 334.1)" textLength="42.6" lengthAdjust="spacingAndGlyphs">XTOT Counts</text>
<text x="388.65" y="286.8" font-size="7.44" text-anchor="middle" stroke="#000" stroke-width="0.08" textLength="31.2" lengthAdjust="spacingAndGlyphs">HFD 10W</text>
<line x1="351.6" y1="302.77" x2="351.6" y2="367.43" stroke="#000" stroke-width="0.85"/>
<line x1="350.2" y1="303.2" x2="351.6" y2="303.2" stroke="#000" stroke-width="0.85"/>
<text x="347.2" y="306.15" font-size="7.6" text-anchor="end" stroke="#000" stroke-width="0.22">1400</text>
<line x1="350.2" y1="312.3" x2="351.6" y2="312.3" stroke="#000" stroke-width="0.85"/>
<text x="347.2" y="315.25" font-size="7.6" text-anchor="end" stroke="#000" stroke-width="0.22">1200</text>
<line x1="350.2" y1="321.4" x2="351.6" y2="321.4" stroke="#000" stroke-width="0.85"/>
<text x="347.2" y="324.35" font-size="7.6" text-anchor="end" stroke="#000" stroke-width="0.22">1000</text>
<line x1="350.2" y1="330.5" x2="351.6" y2="330.5" stroke="#000" stroke-width="0.85"/>
<text x="347.2" y="333.45" font-size="7.6" text-anchor="end" stroke="#000" stroke-width="0.22">800</text>
<line x1="350.2" y1="339.6" x2="351.6" y2="339.6" stroke="#000" stroke-width="0.85"/>
<text x="347.2" y="342.55" font-size="7.6" text-anchor="end" stroke="#000" stroke-width="0.22">600</text>
<line x1="350.2" y1="348.8" x2="351.6" y2="348.8" stroke="#000" stroke-width="0.85"/>
<text x="347.2" y="351.75" font-size="7.6" text-anchor="end" stroke="#000" stroke-width="0.22">400</text>
<line x1="350.2" y1="357.9" x2="351.6" y2="357.9" stroke="#000" stroke-width="0.85"/>
<text x="347.2" y="360.85" font-size="7.6" text-anchor="end" stroke="#000" stroke-width="0.22">200</text>
<line x1="350.2" y1="367" x2="351.6" y2="367" stroke="#000" stroke-width="0.85"/>
<path d="M358.6,367V333.3H367.7V367" fill="#fff" stroke="#ff2020" stroke-width="0.85"/>
<line x1="363.15" y1="333.3" x2="363.15" y2="326.4" stroke="#ff0000" stroke-width="0.85"/>
<line x1="361.55" y1="326.4" x2="364.75" y2="326.4" stroke="#ff0000" stroke-width="0.85"/>
<circle cx="362.4" cy="304.7" r="1.4" fill="none" stroke="#ff0000" stroke-width="0.85"/>
<circle cx="363.1" cy="338.9" r="1.4" fill="none" stroke="#ff0000" stroke-width="0.85"/>
<circle cx="361.3" cy="347.6" r="1.4" fill="none" stroke="#ff0000" stroke-width="0.85"/>
<circle cx="365.3" cy="345.3" r="1.4" fill="none" stroke="#ff0000" stroke-width="0.85"/>
<circle cx="362.9" cy="334.4" r="1.4" fill="none" stroke="#ff0000" stroke-width="0.85"/>
<path d="M372.4,367V334.4H381.5V367" fill="#fff" stroke="#000" stroke-width="0.85"/>
<line x1="376.95" y1="334.4" x2="376.95" y2="329.2" stroke="#000" stroke-width="0.85"/>
<line x1="375.35" y1="329.2" x2="378.55" y2="329.2" stroke="#000" stroke-width="0.85"/>
<circle cx="374.5" cy="322.1" r="1.4" fill="none" stroke="#000" stroke-width="0.85"/>
<circle cx="378.2" cy="320.8" r="1.4" fill="none" stroke="#000" stroke-width="0.85"/>
<circle cx="374.1" cy="336.3" r="1.4" fill="none" stroke="#000" stroke-width="0.85"/>
<circle cx="377.8" cy="334.8" r="1.4" fill="none" stroke="#000" stroke-width="0.85"/>
<circle cx="380" cy="335.7" r="1.4" fill="none" stroke="#000" stroke-width="0.85"/>
<circle cx="376.6" cy="349.5" r="1.4" fill="none" stroke="#000" stroke-width="0.85"/>
<path d="M394.6,367V340.4H403.9V367" fill="#fff" stroke="#ff2020" stroke-width="0.85"/>
<line x1="399.25" y1="340.4" x2="399.25" y2="333.5" stroke="#ff0000" stroke-width="0.85"/>
<line x1="397.65" y1="333.5" x2="400.85" y2="333.5" stroke="#ff0000" stroke-width="0.85"/>
<circle cx="399.4" cy="316.5" r="1.4" fill="none" stroke="#ff0000" stroke-width="0.85"/>
<circle cx="397.5" cy="346.3" r="1.4" fill="none" stroke="#ff0000" stroke-width="0.85"/>
<circle cx="401.3" cy="349.7" r="1.4" fill="none" stroke="#ff0000" stroke-width="0.85"/>
<circle cx="399.1" cy="358.2" r="1.4" fill="none" stroke="#ff0000" stroke-width="0.85"/>
<circle cx="399.4" cy="338.6" r="1.4" fill="none" stroke="#ff0000" stroke-width="0.85"/>
<path d="M408.4,367V341.5H417.5V367" fill="#fff" stroke="#000" stroke-width="0.85"/>
<line x1="412.95" y1="341.5" x2="412.95" y2="336.9" stroke="#000" stroke-width="0.85"/>
<line x1="411.35" y1="336.9" x2="414.55" y2="336.9" stroke="#000" stroke-width="0.85"/>
<circle cx="412.5" cy="322.1" r="1.4" fill="none" stroke="#000" stroke-width="0.85"/>
<circle cx="412.5" cy="328.9" r="1.4" fill="none" stroke="#000" stroke-width="0.85"/>
<circle cx="410.8" cy="345" r="1.4" fill="none" stroke="#000" stroke-width="0.85"/>
<circle cx="414.5" cy="344.4" r="1.4" fill="none" stroke="#000" stroke-width="0.85"/>
<circle cx="412.6" cy="350.6" r="1.4" fill="none" stroke="#000" stroke-width="0.85"/>
<circle cx="412.6" cy="357" r="1.4" fill="none" stroke="#000" stroke-width="0.85"/>
<line x1="351.18" y1="367" x2="424.6" y2="367" stroke="#000" stroke-width="0.85"/>
<line x1="369.5" y1="367" x2="369.5" y2="368.8" stroke="#000" stroke-width="0.8"/>
<line x1="406" y1="367" x2="406" y2="368.8" stroke="#000" stroke-width="0.8"/>
<line x1="361.2" y1="298.5" x2="381.9" y2="298.5" stroke="#222" stroke-width="0.95"/>
<text x="371.55" y="296.7" font-size="7.2" text-anchor="middle" stroke="#000" stroke-width="0.22">n.s.</text>
<line x1="396.8" y1="310.2" x2="417.2" y2="310.2" stroke="#222" stroke-width="0.95"/>
<text x="407" y="308.4" font-size="7.2" text-anchor="middle" stroke="#000" stroke-width="0.22">n.s.</text>
<text x="369.15" y="374.2" font-size="7.3" text-anchor="middle" stroke="#000" stroke-width="0.22" textLength="14.6" lengthAdjust="spacingAndGlyphs">Dark</text>
<text x="405.75" y="374.2" font-size="7.57" text-anchor="middle" stroke="#000" stroke-width="0.22" textLength="16.4" lengthAdjust="spacingAndGlyphs">Light</text>
<text x="348" y="374.6" font-size="7.6" text-anchor="end" stroke="#000" stroke-width="0.22">0</text>
<text x="330.4" y="334.5" font-size="7.55" text-anchor="middle" stroke="#000" stroke-width="0.1" transform="rotate(-90 330.4 334.5)" textLength="43.4" lengthAdjust="spacingAndGlyphs">YTOT Counts</text>
<text x="442.78" y="288.6" font-size="15.2" font-family='"Liberation Sans", sans-serif' font-weight="bold">K</text>
<line x1="480.7" y1="301.77" x2="480.7" y2="366.23" stroke="#000" stroke-width="0.85"/>
<line x1="479.2" y1="302.2" x2="480.7" y2="302.2" stroke="#000" stroke-width="0.85"/>
<text x="476.3" y="305.15" font-size="7.6" text-anchor="end" stroke="#000" stroke-width="0.22">4</text>
<line x1="479.2" y1="318" x2="480.7" y2="318" stroke="#000" stroke-width="0.85"/>
<text x="476.3" y="320.95" font-size="7.6" text-anchor="end" stroke="#000" stroke-width="0.22">3</text>
<line x1="479.2" y1="333.9" x2="480.7" y2="333.9" stroke="#000" stroke-width="0.85"/>
<text x="476.3" y="336.85" font-size="7.6" text-anchor="end" stroke="#000" stroke-width="0.22">2</text>
<line x1="479.2" y1="349.9" x2="480.7" y2="349.9" stroke="#000" stroke-width="0.85"/>
<text x="476.3" y="352.85" font-size="7.6" text-anchor="end" stroke="#000" stroke-width="0.22">1</text>
<line x1="479.2" y1="365.8" x2="480.7" y2="365.8" stroke="#000" stroke-width="0.85"/>
<text x="476.3" y="368.75" font-size="7.6" text-anchor="end" stroke="#000" stroke-width="0.22">0</text>
<path d="M483.1,365.8V323.9H494.1V365.8" fill="#fff" stroke="#ff2020" stroke-width="0.85"/>
<line x1="488.6" y1="323.9" x2="488.6" y2="322.5" stroke="#ff0000" stroke-width="0.85"/>
<line x1="487" y1="322.5" x2="490.2" y2="322.5" stroke="#ff0000" stroke-width="0.85"/>
<circle cx="488.6" cy="316.7" r="1.4" fill="none" stroke="#ff0000" stroke-width="0.85"/>
<circle cx="484.8" cy="319.1" r="1.4" fill="none" stroke="#ff0000" stroke-width="0.85"/>
<circle cx="492.2" cy="320.9" r="1.4" fill="none" stroke="#ff0000" stroke-width="0.85"/>
<circle cx="487.8" cy="322.1" r="1.4" fill="none" stroke="#ff0000" stroke-width="0.85"/>
<circle cx="490.2" cy="322.5" r="1.4" fill="none" stroke="#ff0000" stroke-width="0.85"/>
<circle cx="484.8" cy="325.1" r="1.4" fill="none" stroke="#ff0000" stroke-width="0.85"/>
<circle cx="488.6" cy="325.7" r="1.4" fill="none" stroke="#ff0000" stroke-width="0.85"/>
<circle cx="492.2" cy="325.1" r="1.4" fill="none" stroke="#ff0000" stroke-width="0.85"/>
<circle cx="488.6" cy="332.2" r="1.4" fill="none" stroke="#ff0000" stroke-width="0.85"/>
<path d="M499.4,365.8V325.3H510.4V365.8" fill="#fff" stroke="#000" stroke-width="0.85"/>
<line x1="504.9" y1="325.3" x2="504.9" y2="324.3" stroke="#000" stroke-width="0.85"/>
<line x1="503.3" y1="324.3" x2="506.5" y2="324.3" stroke="#000" stroke-width="0.85"/>
<circle cx="501.2" cy="322.7" r="1.4" fill="none" stroke="#000" stroke-width="0.85"/>
<circle cx="504.8" cy="320.3" r="1.4" fill="none" stroke="#000" stroke-width="0.85"/>
<circle cx="508.6" cy="322.4" r="1.4" fill="none" stroke="#000" stroke-width="0.85"/>
<circle cx="503.3" cy="325.7" r="1.4" fill="none" stroke="#000" stroke-width="0.85"/>
<circle cx="507.2" cy="329.2" r="1.4" fill="none" stroke="#000" stroke-width="0.85"/>
<circle cx="502.9" cy="331.6" r="1.4" fill="none" stroke="#000" stroke-width="0.85"/>
<circle cx="505" cy="324.5" r="1.4" fill="none" stroke="#000" stroke-width="0.85"/>
<line x1="480.27" y1="365.8" x2="513.5" y2="365.8" stroke="#000" stroke-width="0.85"/>
<line x1="488.3" y1="365.8" x2="488.3" y2="367.6" stroke="#000" stroke-width="0.8"/>
<line x1="505.1" y1="365.8" x2="505.1" y2="367.6" stroke="#000" stroke-width="0.8"/>
<line x1="486.7" y1="311.5" x2="506.8" y2="311.5" stroke="#222" stroke-width="0.95"/>
<text x="496.75" y="309.7" font-size="7.2" text-anchor="middle" stroke="#000" stroke-width="0.22">n.s.</text>
<text x="459" y="336.35" font-size="7.72" text-anchor="middle" stroke="#000" stroke-width="0.1" transform="rotate(-90 459 336.35)" textLength="70.5" lengthAdjust="spacingAndGlyphs">Food intake per mouse</text>
<text x="465.6" y="333.7" font-size="7.6" text-anchor="middle" stroke="#000" stroke-width="0.1" transform="rotate(-90 465.6 333.7)" textLength="24.8" lengthAdjust="spacingAndGlyphs">(g/day)</text>
</svg>
</body></html>
